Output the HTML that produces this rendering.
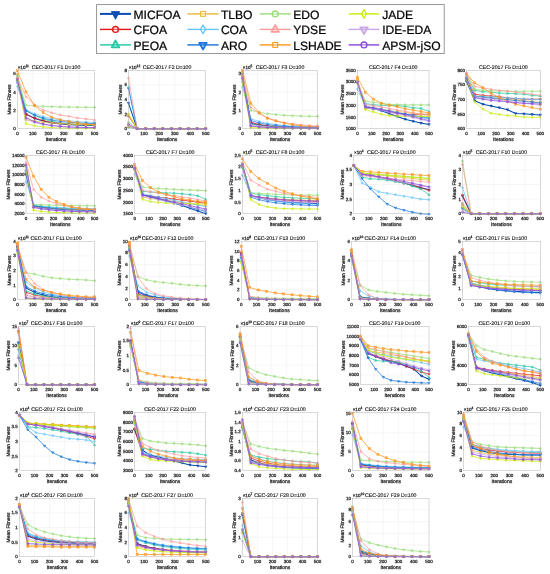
<!DOCTYPE html>
<html><head><meta charset="utf-8"><title>CEC-2017 convergence curves</title><style>
html,body{margin:0;padding:0;background:#fff;}
svg{display:block;filter:blur(0.3px);}
text{font-family:"Liberation Sans",sans-serif;fill:#262626;text-rendering:geometricPrecision;}
.tk.ex{font-size:4.6px;}
.tk{font-size:4.5px;fill:#222;stroke:#222;stroke-width:0.25px;}
.sup{font-size:3.3px;}
.ti{font-size:5.2px;fill:#111;stroke:#111;stroke-width:0.12px;}
.lb{font-size:5.0px;fill:#222;stroke:#222;stroke-width:0.25px;}
.lg{font-size:12.1px;fill:#000;stroke:#000;stroke-width:0.22px;}
.a0{stroke:#0a4cb0;stroke-width:1.05;fill:none;stroke-linejoin:round;marker:url(#m0);}
.a1{stroke:#e01818;stroke-width:0.72;fill:none;stroke-linejoin:round;marker:url(#m1);}
.a2{stroke:#20c8a0;stroke-width:0.72;fill:none;stroke-linejoin:round;marker:url(#m2);}
.a3{stroke:#eab840;stroke-width:0.72;fill:none;stroke-linejoin:round;marker:url(#m3);}
.a4{stroke:#60c4ff;stroke-width:0.72;fill:none;stroke-linejoin:round;marker:url(#m4);}
.a5{stroke:#1874d8;stroke-width:0.72;fill:none;stroke-linejoin:round;marker:url(#m5);}
.a6{stroke:#98dc78;stroke-width:0.72;fill:none;stroke-linejoin:round;marker:url(#m6);}
.a7{stroke:#ff9c9c;stroke-width:0.72;fill:none;stroke-linejoin:round;marker:url(#m7);}
.a8{stroke:#ff9418;stroke-width:0.72;fill:none;stroke-linejoin:round;marker:url(#m8);}
.a9{stroke:#c8ec00;stroke-width:0.72;fill:none;stroke-linejoin:round;marker:url(#m9);}
.a10{stroke:#c8a8e4;stroke-width:0.72;fill:none;stroke-linejoin:round;marker:url(#m10);}
.a11{stroke:#8848dc;stroke-width:0.72;fill:none;stroke-linejoin:round;marker:url(#m11);}</style></head>
<body><svg width="550" height="574" viewBox="0 0 550 574">
<defs><clipPath id="c0"><rect x="15.40" y="68.30" width="81.20" height="62.40"/></clipPath><clipPath id="c1"><rect x="126.50" y="68.30" width="81.20" height="62.40"/></clipPath><clipPath id="c2"><rect x="240.50" y="68.30" width="79.10" height="62.40"/></clipPath><clipPath id="c3"><rect x="355.40" y="68.30" width="75.60" height="62.40"/></clipPath><clipPath id="c4"><rect x="464.50" y="68.30" width="77.80" height="62.40"/></clipPath><clipPath id="c5"><rect x="24.00" y="153.30" width="72.60" height="62.40"/></clipPath><clipPath id="c6"><rect x="132.70" y="153.30" width="75.00" height="62.40"/></clipPath><clipPath id="c7"><rect x="240.40" y="153.30" width="79.20" height="62.40"/></clipPath><clipPath id="c8"><rect x="351.70" y="153.30" width="79.30" height="62.40"/></clipPath><clipPath id="c9"><rect x="460.50" y="153.30" width="81.80" height="62.40"/></clipPath><clipPath id="c10"><rect x="15.40" y="239.30" width="81.20" height="62.40"/></clipPath><clipPath id="c11"><rect x="127.40" y="239.30" width="80.30" height="62.40"/></clipPath><clipPath id="c12"><rect x="239.20" y="239.30" width="80.40" height="62.40"/></clipPath><clipPath id="c13"><rect x="349.50" y="239.30" width="81.50" height="62.40"/></clipPath><clipPath id="c14"><rect x="460.40" y="239.30" width="81.90" height="62.40"/></clipPath><clipPath id="c15"><rect x="16.50" y="324.30" width="80.10" height="62.40"/></clipPath><clipPath id="c16"><rect x="128.50" y="324.30" width="79.20" height="62.40"/></clipPath><clipPath id="c17"><rect x="238.10" y="324.30" width="81.50" height="62.40"/></clipPath><clipPath id="c18"><rect x="358.50" y="324.30" width="72.50" height="62.40"/></clipPath><clipPath id="c19"><rect x="466.40" y="324.30" width="75.90" height="62.40"/></clipPath><clipPath id="c20"><rect x="17.40" y="410.30" width="79.20" height="62.40"/></clipPath><clipPath id="c21"><rect x="132.50" y="410.30" width="75.20" height="62.40"/></clipPath><clipPath id="c22"><rect x="240.40" y="410.30" width="79.20" height="62.40"/></clipPath><clipPath id="c23"><rect x="350.40" y="410.30" width="80.60" height="62.40"/></clipPath><clipPath id="c24"><rect x="461.50" y="410.30" width="80.80" height="62.40"/></clipPath><clipPath id="c25"><rect x="17.40" y="496.30" width="79.20" height="62.40"/></clipPath><clipPath id="c26"><rect x="126.50" y="496.30" width="81.20" height="62.40"/></clipPath><clipPath id="c27"><rect x="240.40" y="496.30" width="79.20" height="62.40"/></clipPath><clipPath id="c28"><rect x="350.50" y="496.30" width="80.50" height="62.40"/></clipPath><marker id="m0" markerUnits="userSpaceOnUse" markerWidth="6" markerHeight="6" viewBox="-3 -3 6 6" refX="0" refY="0" overflow="visible"><path d="M-1.29,-0.84H1.29L0.00,1.34Z" fill="#0a4cb0" stroke="#0a4cb0" stroke-width="0.5"/></marker><marker id="m1" markerUnits="userSpaceOnUse" markerWidth="6" markerHeight="6" viewBox="-3 -3 6 6" refX="0" refY="0" overflow="visible"><circle cx="0.00" cy="0.00" r="1.06" fill="#e01818" fill-opacity="0.55" stroke="#e01818" stroke-width="0.5"/></marker><marker id="m2" markerUnits="userSpaceOnUse" markerWidth="6" markerHeight="6" viewBox="-3 -3 6 6" refX="0" refY="0" overflow="visible"><path d="M-1.23,0.78H1.23L0.00,-1.29Z" fill="#20c8a0" fill-opacity="0.55" stroke="#20c8a0" stroke-width="0.5"/></marker><marker id="m3" markerUnits="userSpaceOnUse" markerWidth="6" markerHeight="6" viewBox="-3 -3 6 6" refX="0" refY="0" overflow="visible"><rect x="-1.01" y="-1.01" width="2.02" height="2.02" fill="#eab840" fill-opacity="0.55" stroke="#eab840" stroke-width="0.5"/></marker><marker id="m4" markerUnits="userSpaceOnUse" markerWidth="6" markerHeight="6" viewBox="-3 -3 6 6" refX="0" refY="0" overflow="visible"><path d="M0.00,-1.34L1.01,0.00L0.00,1.34L-1.01,0.00Z" fill="#60c4ff" fill-opacity="0.55" stroke="#60c4ff" stroke-width="0.5"/></marker><marker id="m5" markerUnits="userSpaceOnUse" markerWidth="6" markerHeight="6" viewBox="-3 -3 6 6" refX="0" refY="0" overflow="visible"><path d="M-1.23,-0.78H1.23L0.00,1.29Z" fill="#1874d8" fill-opacity="0.55" stroke="#1874d8" stroke-width="0.5"/></marker><marker id="m6" markerUnits="userSpaceOnUse" markerWidth="6" markerHeight="6" viewBox="-3 -3 6 6" refX="0" refY="0" overflow="visible"><circle cx="0.00" cy="0.00" r="1.06" fill="#98dc78" fill-opacity="0.55" stroke="#98dc78" stroke-width="0.5"/></marker><marker id="m7" markerUnits="userSpaceOnUse" markerWidth="6" markerHeight="6" viewBox="-3 -3 6 6" refX="0" refY="0" overflow="visible"><path d="M-1.23,0.78H1.23L0.00,-1.29Z" fill="#ff9c9c" fill-opacity="0.55" stroke="#ff9c9c" stroke-width="0.5"/></marker><marker id="m8" markerUnits="userSpaceOnUse" markerWidth="6" markerHeight="6" viewBox="-3 -3 6 6" refX="0" refY="0" overflow="visible"><rect x="-1.01" y="-1.01" width="2.02" height="2.02" fill="#ff9418" fill-opacity="0.55" stroke="#ff9418" stroke-width="0.5"/></marker><marker id="m9" markerUnits="userSpaceOnUse" markerWidth="6" markerHeight="6" viewBox="-3 -3 6 6" refX="0" refY="0" overflow="visible"><path d="M0.00,-1.34L1.01,0.00L0.00,1.34L-1.01,0.00Z" fill="#c8ec00" fill-opacity="0.55" stroke="#c8ec00" stroke-width="0.5"/></marker><marker id="m10" markerUnits="userSpaceOnUse" markerWidth="6" markerHeight="6" viewBox="-3 -3 6 6" refX="0" refY="0" overflow="visible"><path d="M-1.23,-0.78H1.23L0.00,1.29Z" fill="#c8a8e4" fill-opacity="0.55" stroke="#c8a8e4" stroke-width="0.5"/></marker><marker id="m11" markerUnits="userSpaceOnUse" markerWidth="6" markerHeight="6" viewBox="-3 -3 6 6" refX="0" refY="0" overflow="visible"><circle cx="0.00" cy="0.00" r="1.06" fill="#8848dc" fill-opacity="0.55" stroke="#8848dc" stroke-width="0.5"/></marker></defs>
<rect width="550" height="574" fill="#fff"/>
<rect x="96.6" y="4.6" width="347.6" height="49" fill="#fff" stroke="#8c8c8c" stroke-width="0.9"/>
<path d="M100.0,13.9H131.0" stroke="#0a4cb0" stroke-width="2.0"/>
<path d="M111.30,11.50H119.70L115.50,19.30Z" fill="#0a4cb0" stroke="#0a4cb0" stroke-width="0.8" stroke-linejoin="round"/>
<text class="lg" x="133.5" y="18.60">MICFOA</text>
<path d="M100.0,29.4H131.0" stroke="#e01818" stroke-width="1.4"/>
<circle cx="115.50" cy="29.40" r="2.9" fill="#fff" fill-opacity="0.35" stroke="#e01818" stroke-width="1.35"/>
<text class="lg" x="133.5" y="34.10">CFOA</text>
<path d="M100.0,44.9H131.0" stroke="#20c8a0" stroke-width="1.4"/>
<path d="M111.70,47.30H119.30L115.50,40.30Z" fill="#20c8a0" fill-opacity="0.25" stroke="#20c8a0" stroke-width="1.7" stroke-linejoin="round"/>
<text class="lg" x="133.5" y="49.60">PEOA</text>
<path d="M187.4,13.9H218.6" stroke="#eab840" stroke-width="1.4"/>
<rect x="200.60" y="11.50" width="4.8" height="4.8" fill="#fff" fill-opacity="0.35" stroke="#eab840" stroke-width="1.1"/>
<text class="lg" x="220.9" y="18.60">TLBO</text>
<path d="M187.4,29.4H218.6" stroke="#60c4ff" stroke-width="1.4"/>
<path d="M203.00,25.00L205.50,29.40L203.00,33.80L200.50,29.40Z" fill="#fff" fill-opacity="0.35" stroke="#60c4ff" stroke-width="1.2" stroke-linejoin="round"/>
<text class="lg" x="220.9" y="34.10">COA</text>
<path d="M187.4,44.9H218.6" stroke="#1874d8" stroke-width="1.4"/>
<path d="M199.20,42.80H206.80L203.00,49.50Z" fill="#1874d8" fill-opacity="0.25" stroke="#1874d8" stroke-width="1.7" stroke-linejoin="round"/>
<text class="lg" x="220.9" y="49.60">ARO</text>
<path d="M259.7,13.9H290.7" stroke="#98dc78" stroke-width="1.4"/>
<circle cx="275.20" cy="13.90" r="2.9" fill="#fff" fill-opacity="0.35" stroke="#98dc78" stroke-width="1.35"/>
<text class="lg" x="293.3" y="18.60">EDO</text>
<path d="M259.7,29.4H290.7" stroke="#ff9c9c" stroke-width="1.4"/>
<path d="M271.40,31.80H279.00L275.20,24.80Z" fill="#ff9c9c" fill-opacity="0.25" stroke="#ff9c9c" stroke-width="1.7" stroke-linejoin="round"/>
<text class="lg" x="293.3" y="34.10">YDSE</text>
<path d="M259.7,44.9H290.7" stroke="#ff9418" stroke-width="1.4"/>
<rect x="272.80" y="42.50" width="4.8" height="4.8" fill="#fff" fill-opacity="0.35" stroke="#ff9418" stroke-width="1.1"/>
<text class="lg" x="293.3" y="49.60">LSHADE</text>
<path d="M348.7,13.9H379.3" stroke="#c8ec00" stroke-width="1.4"/>
<path d="M364.00,9.50L366.50,13.90L364.00,18.30L361.50,13.90Z" fill="#fff" fill-opacity="0.35" stroke="#c8ec00" stroke-width="1.2" stroke-linejoin="round"/>
<text class="lg" x="382.2" y="18.60">JADE</text>
<path d="M348.7,29.4H379.3" stroke="#c8a8e4" stroke-width="1.4"/>
<path d="M360.20,27.30H367.80L364.00,34.00Z" fill="#c8a8e4" fill-opacity="0.25" stroke="#c8a8e4" stroke-width="1.7" stroke-linejoin="round"/>
<text class="lg" x="382.2" y="34.10">IDE-EDA</text>
<path d="M348.7,44.9H379.3" stroke="#8848dc" stroke-width="1.4"/>
<circle cx="364.00" cy="44.90" r="2.9" fill="#fff" fill-opacity="0.35" stroke="#8848dc" stroke-width="1.35"/>
<text class="lg" x="382.2" y="49.60">APSM-jSO</text>
<path d="M32.84,70.30V128.70M48.28,70.30V128.70M63.72,70.30V128.70M79.16,70.30V128.70M17.40,110.36H94.60M17.40,92.03H94.60M17.40,73.69H94.60" stroke="#e6e6e6" stroke-width="0.35" fill="none"/>
<g clip-path="url(#c0)">
<path d="M17.4 81.0L26.0 114.0L34.6 118.4L43.1 121.1L51.7 122.9L60.3 124.0L68.9 124.7L77.4 125.1L86.0 125.4L94.6 125.6" class="a0"/>
<path d="M17.4 78.3L26.0 114.5L34.6 118.1L43.1 120.5L51.7 122.2L60.3 123.3L68.9 124.0L77.4 124.5L86.0 124.8L94.6 125.0" class="a1"/>
<path d="M17.4 75.5L26.0 110.4L34.6 115.5L43.1 118.9L51.7 121.3L60.3 122.8L68.9 123.8L77.4 124.5L86.0 125.0L94.6 125.3" class="a2"/>
<path d="M17.4 74.6L26.0 119.5L34.6 121.2L43.1 122.3L51.7 123.1L60.3 123.7L68.9 124.1L77.4 124.4L86.0 124.6L94.6 124.7" class="a3"/>
<path d="M17.4 86.5L26.0 109.9L34.6 113.8L43.1 116.6L51.7 118.5L60.3 119.9L68.9 120.9L77.4 121.6L86.0 122.1L94.6 122.4" class="a4"/>
<path d="M17.4 82.9L26.0 110.8L34.6 115.2L43.1 118.1L51.7 120.1L60.3 121.4L68.9 122.3L77.4 122.9L86.0 123.3L94.6 123.6" class="a5"/>
<path d="M17.4 78.3L26.0 105.3L34.6 105.9L43.1 106.4L51.7 106.7L60.3 106.9L68.9 107.1L77.4 107.2L86.0 107.3L94.6 107.4" class="a6"/>
<path d="M17.4 77.4L26.0 96.8L34.6 104.9L43.1 109.9L51.7 112.7L60.3 114.9L68.9 116.3L77.4 117.9L86.0 118.9L94.6 119.9" class="a7"/>
<path d="M17.4 70.7L26.0 91.8L34.6 105.5L43.1 112.7L51.7 117.1L60.3 119.9L68.9 121.5L77.4 122.8L86.0 124.1L94.6 125.0" class="a8"/>
<path d="M17.4 80.1L26.0 123.7L34.6 125.8L43.1 127.0L51.7 127.6L60.3 128.0L68.9 128.2L77.4 128.3L86.0 128.4L94.6 128.4" class="a9"/>
<path d="M17.4 82.9L26.0 119.5L34.6 122.5L43.1 124.4L51.7 125.6L60.3 126.4L68.9 126.9L77.4 127.2L86.0 127.4L94.6 127.6" class="a10"/>
<path d="M17.4 79.2L26.0 117.7L34.6 121.7L43.1 124.1L51.7 125.5L60.3 126.4L68.9 127.0L77.4 127.3L86.0 127.5L94.6 127.6" class="a11"/>
</g>
<rect x="17.40" y="70.30" width="77.20" height="58.40" fill="none" stroke="#a0a0a0" stroke-width="0.4"/>
<g class="tk"><text x="17.40" y="135.00" text-anchor="middle">0</text><text x="32.84" y="135.00" text-anchor="middle">100</text><text x="48.28" y="135.00" text-anchor="middle">200</text><text x="63.72" y="135.00" text-anchor="middle">300</text><text x="79.16" y="135.00" text-anchor="middle">400</text><text x="94.60" y="135.00" text-anchor="middle">500</text><text x="15.80" y="130.20" text-anchor="end">0</text><text x="15.80" y="111.86" text-anchor="end">2</text><text x="15.80" y="93.53" text-anchor="end">4</text><text x="15.80" y="75.19" text-anchor="end">6</text></g>
<text class="tk ex" x="17.70" y="69.30">×10<tspan class="sup" dy="-2.0">11</tspan></text>
<text class="ti" x="56.00" y="68.90" text-anchor="middle">CEC-2017 F1 D=100</text>
<text class="lb" x="56.00" y="140.60" text-anchor="middle">Iterations</text>
<text class="lb" transform="translate(11.00,99.50) rotate(-90)" text-anchor="middle">Mean Fitness</text>
<path d="M143.94,70.30V128.70M159.38,70.30V128.70M174.82,70.30V128.70M190.26,70.30V128.70M128.50,114.10H205.70M128.50,99.50H205.70M128.50,84.90H205.70" stroke="#e6e6e6" stroke-width="0.35" fill="none"/>
<g clip-path="url(#c1)">
<path d="M128.5 103.1L137.1 128.7L145.7 128.7L154.2 128.7L162.8 128.7L171.4 128.7L180.0 128.7L188.5 128.7L197.1 128.7L205.7 128.7" class="a0"/>
<path d="M128.5 115.9L137.1 128.7L145.7 128.7L154.2 128.7L162.8 128.7L171.4 128.7L180.0 128.7L188.5 128.7L197.1 128.7L205.7 128.7" class="a1"/>
<path d="M128.5 127.2L137.1 128.7L145.7 128.7L154.2 128.7L162.8 128.7L171.4 128.7L180.0 128.7L188.5 128.7L197.1 128.7L205.7 128.7" class="a2"/>
<path d="M128.5 114.8L137.1 128.7L145.7 128.7L154.2 128.7L162.8 128.7L171.4 128.7L180.0 128.7L188.5 128.7L197.1 128.7L205.7 128.7" class="a3"/>
<path d="M128.5 87.1L137.1 128.7L145.7 128.7L154.2 128.7L162.8 128.7L171.4 128.7L180.0 128.7L188.5 128.7L197.1 128.7L205.7 128.7" class="a4"/>
<path d="M128.5 88.5L137.1 128.7L145.7 128.7L154.2 128.7L162.8 128.7L171.4 128.7L180.0 128.7L188.5 128.7L197.1 128.7L205.7 128.7" class="a5"/>
<path d="M128.5 122.1L137.1 128.7L145.7 128.7L154.2 128.7L162.8 128.7L171.4 128.7L180.0 128.7L188.5 128.7L197.1 128.7L205.7 128.7" class="a6"/>
<path d="M128.5 77.9L137.1 128.7L145.7 128.7L154.2 128.7L162.8 128.7L171.4 128.7L180.0 128.7L188.5 128.7L197.1 128.7L205.7 128.7" class="a7"/>
<path d="M128.5 126.3L137.1 128.7L145.7 128.7L154.2 128.7L162.8 128.7L171.4 128.7L180.0 128.7L188.5 128.7L197.1 128.7L205.7 128.7" class="a8"/>
<path d="M128.5 114.1L137.1 128.7L145.7 128.7L154.2 128.7L162.8 128.7L171.4 128.7L180.0 128.7L188.5 128.7L197.1 128.7L205.7 128.7" class="a9"/>
<path d="M128.5 125.4L137.1 128.7L145.7 128.7L154.2 128.7L162.8 128.7L171.4 128.7L180.0 128.7L188.5 128.7L197.1 128.7L205.7 128.7" class="a10"/>
<path d="M128.5 124.3L137.1 128.7L145.7 128.7L154.2 128.7L162.8 128.7L171.4 128.7L180.0 128.7L188.5 128.7L197.1 128.7L205.7 128.7" class="a11"/>
</g>
<rect x="128.50" y="70.30" width="77.20" height="58.40" fill="none" stroke="#a0a0a0" stroke-width="0.4"/>
<g class="tk"><text x="128.50" y="135.00" text-anchor="middle">0</text><text x="143.94" y="135.00" text-anchor="middle">100</text><text x="159.38" y="135.00" text-anchor="middle">200</text><text x="174.82" y="135.00" text-anchor="middle">300</text><text x="190.26" y="135.00" text-anchor="middle">400</text><text x="205.70" y="135.00" text-anchor="middle">500</text><text x="126.90" y="130.20" text-anchor="end">0</text><text x="126.90" y="115.60" text-anchor="end">2</text><text x="126.90" y="101.00" text-anchor="end">4</text><text x="126.90" y="86.40" text-anchor="end">6</text><text x="126.90" y="71.80" text-anchor="end">8</text></g>
<text class="tk ex" x="128.80" y="69.30">×10<tspan class="sup" dy="-2.0">12</tspan></text>
<text class="ti" x="167.10" y="68.90" text-anchor="middle">CEC-2017 F2 D=100</text>
<text class="lb" x="167.10" y="140.60" text-anchor="middle">Iterations</text>
<text class="lb" transform="translate(122.10,99.50) rotate(-90)" text-anchor="middle">Mean Fitness</text>
<path d="M257.52,70.30V128.70M272.54,70.30V128.70M287.56,70.30V128.70M302.58,70.30V128.70M242.50,110.45H317.60M242.50,92.20H317.60M242.50,73.95H317.60" stroke="#e6e6e6" stroke-width="0.35" fill="none"/>
<g clip-path="url(#c2)">
<path d="M242.5 73.9L250.8 123.2L259.2 125.1L267.5 126.2L275.9 126.9L284.2 127.3L292.6 127.6L300.9 127.7L309.3 127.8L317.6 127.9" class="a0"/>
<path d="M242.5 75.8L250.8 122.3L259.2 124.5L267.5 125.8L275.9 126.6L284.2 127.0L292.6 127.3L300.9 127.5L309.3 127.6L317.6 127.7" class="a1"/>
<path d="M242.5 81.2L250.8 124.1L259.2 125.6L267.5 126.6L275.9 127.1L284.2 127.5L292.6 127.7L300.9 127.8L309.3 127.9L317.6 127.9" class="a2"/>
<path d="M242.5 72.1L250.8 126.5L259.2 127.2L267.5 127.5L275.9 127.8L284.2 127.9L292.6 128.0L300.9 128.1L309.3 128.1L317.6 128.1" class="a3"/>
<path d="M242.5 86.7L250.8 118.7L259.2 121.5L267.5 123.4L275.9 124.7L284.2 125.5L292.6 126.1L300.9 126.5L309.3 126.7L317.6 126.9" class="a4"/>
<path d="M242.5 77.6L250.8 120.5L259.2 123.0L267.5 124.6L275.9 125.6L284.2 126.3L292.6 126.7L300.9 127.0L309.3 127.1L317.6 127.2" class="a5"/>
<path d="M242.5 79.4L250.8 110.4L259.2 112.3L267.5 113.7L275.9 114.6L284.2 115.3L292.6 115.7L300.9 116.1L309.3 116.3L317.6 116.4" class="a6"/>
<path d="M242.5 75.8L250.8 107.3L259.2 113.5L267.5 117.7L275.9 120.6L284.2 122.6L292.6 124.0L300.9 124.9L309.3 125.5L317.6 125.9" class="a7"/>
<path d="M242.5 70.3L250.8 103.2L259.2 112.8L267.5 118.3L275.9 120.9L284.2 123.2L292.6 124.7L300.9 125.8L309.3 126.5L317.6 126.9" class="a8"/>
<path d="M242.5 83.1L250.8 127.8L259.2 128.1L267.5 128.2L275.9 128.4L284.2 128.4L292.6 128.5L300.9 128.5L309.3 128.5L317.6 128.5" class="a9"/>
<path d="M242.5 77.6L250.8 125.0L259.2 126.3L267.5 127.0L275.9 127.5L284.2 127.7L292.6 127.9L300.9 128.0L309.3 128.1L317.6 128.1" class="a10"/>
<path d="M242.5 78.5L250.8 126.0L259.2 126.9L267.5 127.5L275.9 127.8L284.2 128.0L292.6 128.1L300.9 128.2L309.3 128.3L317.6 128.3" class="a11"/>
</g>
<rect x="242.50" y="70.30" width="75.10" height="58.40" fill="none" stroke="#a0a0a0" stroke-width="0.4"/>
<g class="tk"><text x="242.50" y="135.00" text-anchor="middle">0</text><text x="257.52" y="135.00" text-anchor="middle">100</text><text x="272.54" y="135.00" text-anchor="middle">200</text><text x="287.56" y="135.00" text-anchor="middle">300</text><text x="302.58" y="135.00" text-anchor="middle">400</text><text x="317.60" y="135.00" text-anchor="middle">500</text><text x="240.90" y="130.20" text-anchor="end">0</text><text x="240.90" y="111.95" text-anchor="end">1</text><text x="240.90" y="93.70" text-anchor="end">2</text><text x="240.90" y="75.45" text-anchor="end">3</text></g>
<text class="tk ex" x="242.80" y="69.30">×10<tspan class="sup" dy="-2.0">5</tspan></text>
<text class="ti" x="280.05" y="68.90" text-anchor="middle">CEC-2017 F3 D=100</text>
<text class="lb" x="280.05" y="140.60" text-anchor="middle">Iterations</text>
<text class="lb" transform="translate(236.10,99.50) rotate(-90)" text-anchor="middle">Mean Fitness</text>
<path d="M371.72,70.30V128.70M386.04,70.30V128.70M400.36,70.30V128.70M414.68,70.30V128.70M357.40,117.02H429.00M357.40,105.34H429.00M357.40,93.66H429.00M357.40,81.98H429.00" stroke="#e6e6e6" stroke-width="0.35" fill="none"/>
<g clip-path="url(#c3)">
<path d="M357.4 82.0L365.4 106.7L373.3 108.1L381.3 110.8L389.2 113.6L397.2 116.4L405.1 119.2L413.1 121.3L421.0 123.1L429.0 124.4" class="a0"/>
<path d="M357.4 82.0L365.4 106.7L373.3 107.7L381.3 109.1L389.2 111.9L397.2 113.6L405.1 114.3L413.1 114.3L421.0 114.3L429.0 114.3" class="a1"/>
<path d="M357.4 80.8L365.4 103.6L373.3 104.6L381.3 105.3L389.2 105.3L397.2 105.6L405.1 106.3L413.1 107.7L421.0 108.4L429.0 111.5" class="a2"/>
<path d="M357.4 79.6L365.4 108.1L373.3 109.0L381.3 109.8L389.2 110.7L397.2 111.5L405.1 112.4L413.1 113.2L421.0 114.1L429.0 114.9" class="a3"/>
<path d="M357.4 89.0L365.4 106.3L373.3 107.6L381.3 109.1L389.2 110.6L397.2 112.3L405.1 113.9L413.1 115.6L421.0 117.4L429.0 119.1" class="a4"/>
<path d="M357.4 83.1L365.4 107.7L373.3 109.0L381.3 110.2L389.2 111.5L397.2 112.8L405.1 114.1L413.1 115.4L421.0 116.7L429.0 118.0" class="a5"/>
<path d="M357.4 82.0L365.4 101.2L373.3 102.3L381.3 103.2L389.2 104.4L397.2 104.6L405.1 104.8L413.1 104.8L421.0 104.9L429.0 104.9" class="a6"/>
<path d="M357.4 80.8L365.4 104.2L373.3 105.6L381.3 107.0L389.2 108.5L397.2 109.9L405.1 111.3L413.1 112.8L421.0 114.2L429.0 115.6" class="a7"/>
<path d="M357.4 77.4L365.4 92.2L373.3 99.1L381.3 103.2L389.2 105.3L397.2 106.7L405.1 108.8L413.1 110.1L421.0 111.5L429.0 112.9" class="a8"/>
<path d="M357.4 83.1L365.4 109.5L373.3 111.9L381.3 114.3L389.2 115.6L397.2 116.1L405.1 116.3L413.1 116.4L421.0 116.4L429.0 116.4" class="a9"/>
<path d="M357.4 83.1L365.4 107.7L373.3 108.8L381.3 110.3L389.2 112.0L397.2 113.8L405.1 115.7L413.1 117.6L421.0 119.6L429.0 121.7" class="a10"/>
<path d="M357.4 82.4L365.4 107.0L373.3 108.1L381.3 109.6L389.2 111.2L397.2 112.9L405.1 114.7L413.1 116.6L421.0 118.6L429.0 120.6" class="a11"/>
</g>
<rect x="357.40" y="70.30" width="71.60" height="58.40" fill="none" stroke="#a0a0a0" stroke-width="0.4"/>
<g class="tk"><text x="357.40" y="135.00" text-anchor="middle">0</text><text x="371.72" y="135.00" text-anchor="middle">100</text><text x="386.04" y="135.00" text-anchor="middle">200</text><text x="400.36" y="135.00" text-anchor="middle">300</text><text x="414.68" y="135.00" text-anchor="middle">400</text><text x="429.00" y="135.00" text-anchor="middle">500</text><text x="355.80" y="130.20" text-anchor="end">1000</text><text x="355.80" y="118.52" text-anchor="end">1500</text><text x="355.80" y="106.84" text-anchor="end">2000</text><text x="355.80" y="95.16" text-anchor="end">2500</text><text x="355.80" y="83.48" text-anchor="end">3000</text><text x="355.80" y="71.80" text-anchor="end">3500</text></g>
<text class="ti" x="393.20" y="68.90" text-anchor="middle">CEC-2017 F4 D=100</text>
<text class="lb" x="393.20" y="140.60" text-anchor="middle">Iterations</text>
<text class="lb" transform="translate(344.10,99.50) rotate(-90)" text-anchor="middle">Mean Fitness</text>
<path d="M481.26,70.30V128.70M496.02,70.30V128.70M510.78,70.30V128.70M525.54,70.30V128.70M466.50,114.10H540.30M466.50,99.50H540.30M466.50,84.90H540.30" stroke="#e6e6e6" stroke-width="0.35" fill="none"/>
<g clip-path="url(#c4)">
<path d="M466.5 81.4L474.7 100.7L482.9 104.2L491.1 105.9L499.3 107.7L507.5 109.7L515.7 113.5L523.9 113.8L532.1 114.4L540.3 115.0" class="a0"/>
<path d="M466.5 77.6L474.7 94.2L482.9 95.4L491.1 96.0L499.3 96.6L507.5 98.0L515.7 98.6L523.9 99.2L532.1 99.2L540.3 99.2" class="a1"/>
<path d="M466.5 76.1L474.7 90.4L482.9 91.6L491.1 92.2L499.3 93.1L507.5 93.4L515.7 93.7L523.9 94.2L532.1 95.4L540.3 96.0" class="a2"/>
<path d="M466.5 74.7L474.7 96.0L482.9 96.8L491.1 97.6L499.3 98.4L507.5 99.2L515.7 100.0L523.9 100.8L532.1 101.6L540.3 102.4" class="a3"/>
<path d="M466.5 79.1L474.7 96.0L482.9 96.5L491.1 96.9L499.3 97.4L507.5 97.9L515.7 98.4L523.9 98.8L532.1 99.3L540.3 99.8" class="a4"/>
<path d="M466.5 79.6L474.7 96.6L482.9 97.4L491.1 98.2L499.3 99.0L507.5 99.8L515.7 100.6L523.9 101.4L532.1 102.2L540.3 103.0" class="a5"/>
<path d="M466.5 74.7L474.7 89.3L482.9 90.4L491.1 90.7L499.3 91.0L507.5 91.0L515.7 91.3L523.9 91.3L532.1 91.3L540.3 91.3" class="a6"/>
<path d="M466.5 73.2L474.7 86.4L482.9 87.8L491.1 89.3L499.3 90.4L507.5 91.3L515.7 92.2L523.9 93.1L532.1 94.2L540.3 95.1" class="a7"/>
<path d="M466.5 73.8L474.7 82.9L482.9 87.8L491.1 93.1L499.3 97.7L507.5 101.3L515.7 104.2L523.9 105.9L532.1 107.7L540.3 109.1" class="a8"/>
<path d="M466.5 79.1L474.7 102.1L482.9 109.1L491.1 113.2L499.3 114.4L507.5 115.6L515.7 116.1L523.9 117.0L532.1 117.3L540.3 117.3" class="a9"/>
<path d="M466.5 77.6L474.7 97.2L482.9 98.2L491.1 99.2L499.3 100.2L507.5 101.3L515.7 102.3L523.9 103.3L532.1 104.3L540.3 105.3" class="a10"/>
<path d="M466.5 78.5L474.7 97.7L482.9 99.2L491.1 100.4L499.3 101.0L507.5 101.8L515.7 102.7L523.9 103.3L532.1 103.6L540.3 104.2" class="a11"/>
</g>
<rect x="466.50" y="70.30" width="73.80" height="58.40" fill="none" stroke="#a0a0a0" stroke-width="0.4"/>
<g class="tk"><text x="466.50" y="135.00" text-anchor="middle">0</text><text x="481.26" y="135.00" text-anchor="middle">100</text><text x="496.02" y="135.00" text-anchor="middle">200</text><text x="510.78" y="135.00" text-anchor="middle">300</text><text x="525.54" y="135.00" text-anchor="middle">400</text><text x="540.30" y="135.00" text-anchor="middle">500</text><text x="464.90" y="130.20" text-anchor="end">600</text><text x="464.90" y="115.60" text-anchor="end">650</text><text x="464.90" y="101.00" text-anchor="end">700</text><text x="464.90" y="86.40" text-anchor="end">750</text><text x="464.90" y="71.80" text-anchor="end">800</text></g>
<text class="ti" x="503.40" y="68.90" text-anchor="middle">CEC-2017 F5 D=100</text>
<text class="lb" x="503.40" y="140.60" text-anchor="middle">Iterations</text>
<text class="lb" transform="translate(455.50,99.50) rotate(-90)" text-anchor="middle">Mean Fitness</text>
<path d="M39.72,155.30V213.70M53.44,155.30V213.70M67.16,155.30V213.70M80.88,155.30V213.70M26.00,203.97H94.60M26.00,194.23H94.60M26.00,184.50H94.60M26.00,174.77H94.60M26.00,165.03H94.60" stroke="#e6e6e6" stroke-width="0.35" fill="none"/>
<g clip-path="url(#c5)">
<path d="M26.0 173.8L33.6 206.4L41.2 207.5L48.9 208.4L56.5 209.0L64.1 209.5L71.7 209.8L79.4 210.1L87.0 210.2L94.6 210.4" class="a0"/>
<path d="M26.0 170.9L33.6 205.9L41.2 206.9L48.9 207.7L56.5 208.2L64.1 208.6L71.7 208.9L79.4 209.2L87.0 209.3L94.6 209.5" class="a1"/>
<path d="M26.0 169.9L33.6 205.4L41.2 206.4L48.9 207.2L56.5 207.7L64.1 208.1L71.7 208.5L79.4 208.7L87.0 208.8L94.6 209.0" class="a2"/>
<path d="M26.0 165.0L33.6 206.9L41.2 207.8L48.9 208.4L56.5 208.9L64.1 209.3L71.7 209.5L79.4 209.7L87.0 209.9L94.6 210.0" class="a3"/>
<path d="M26.0 181.6L33.6 204.9L41.2 206.1L48.9 206.9L56.5 207.5L64.1 208.0L71.7 208.3L79.4 208.6L87.0 208.8L94.6 208.9" class="a4"/>
<path d="M26.0 174.8L33.6 205.9L41.2 207.3L48.9 208.3L56.5 209.1L64.1 209.7L71.7 210.1L79.4 210.4L87.0 210.6L94.6 210.8" class="a5"/>
<path d="M26.0 167.5L33.6 204.5L41.2 204.8L48.9 205.1L56.5 205.3L64.1 205.5L71.7 205.6L79.4 205.7L87.0 205.7L94.6 205.8" class="a6"/>
<path d="M26.0 162.6L33.6 189.4L41.2 197.2L48.9 201.0L56.5 203.5L64.1 205.4L71.7 206.9L79.4 207.9L87.0 208.8L94.6 209.3" class="a7"/>
<path d="M26.0 157.2L33.6 176.2L41.2 189.4L48.9 197.2L56.5 201.5L64.1 204.5L71.7 206.9L79.4 208.3L87.0 209.3L94.6 209.8" class="a8"/>
<path d="M26.0 169.9L33.6 210.3L41.2 211.4L48.9 212.0L56.5 212.5L64.1 212.7L71.7 212.9L79.4 213.0L87.0 213.1L94.6 213.1" class="a9"/>
<path d="M26.0 166.0L33.6 207.4L41.2 208.7L48.9 209.6L56.5 210.2L64.1 210.7L71.7 211.0L79.4 211.2L87.0 211.4L94.6 211.5" class="a10"/>
<path d="M26.0 165.0L33.6 207.4L41.2 208.8L48.9 209.8L56.5 210.5L64.1 211.0L71.7 211.4L79.4 211.6L87.0 211.8L94.6 211.9" class="a11"/>
</g>
<rect x="26.00" y="155.30" width="68.60" height="58.40" fill="none" stroke="#a0a0a0" stroke-width="0.4"/>
<g class="tk"><text x="26.00" y="220.00" text-anchor="middle">0</text><text x="39.72" y="220.00" text-anchor="middle">100</text><text x="53.44" y="220.00" text-anchor="middle">200</text><text x="67.16" y="220.00" text-anchor="middle">300</text><text x="80.88" y="220.00" text-anchor="middle">400</text><text x="94.60" y="220.00" text-anchor="middle">500</text><text x="24.40" y="215.20" text-anchor="end">2000</text><text x="24.40" y="205.47" text-anchor="end">4000</text><text x="24.40" y="195.73" text-anchor="end">6000</text><text x="24.40" y="186.00" text-anchor="end">8000</text><text x="24.40" y="176.27" text-anchor="end">10000</text><text x="24.40" y="166.53" text-anchor="end">12000</text><text x="24.40" y="156.80" text-anchor="end">14000</text></g>
<text class="ti" x="60.30" y="153.90" text-anchor="middle">CEC-2017 F6 D=100</text>
<text class="lb" x="60.30" y="225.60" text-anchor="middle">Iterations</text>
<text class="lb" transform="translate(10.40,184.50) rotate(-90)" text-anchor="middle">Mean Fitness</text>
<path d="M148.90,155.30V213.70M163.10,155.30V213.70M177.30,155.30V213.70M191.50,155.30V213.70M134.70,202.02H205.70M134.70,190.34H205.70M134.70,178.66H205.70M134.70,166.98H205.70" stroke="#e6e6e6" stroke-width="0.35" fill="none"/>
<g clip-path="url(#c6)">
<path d="M134.7 168.1L142.6 195.0L150.5 196.6L158.4 198.6L166.3 200.8L174.1 203.1L182.0 205.6L189.9 208.2L197.8 210.9L205.7 213.7" class="a0"/>
<path d="M134.7 169.3L142.6 195.0L150.5 196.0L158.4 197.1L166.3 198.1L174.1 199.1L182.0 200.1L189.9 201.1L197.8 202.2L205.7 203.2" class="a1"/>
<path d="M134.7 168.1L142.6 191.4L150.5 192.0L158.4 192.4L166.3 192.9L174.1 193.1L182.0 193.8L189.9 194.5L197.8 195.8L205.7 199.4" class="a2"/>
<path d="M134.7 167.0L142.6 197.3L150.5 198.4L158.4 199.4L166.3 200.4L174.1 201.4L182.0 202.5L189.9 203.5L197.8 204.5L205.7 205.5" class="a3"/>
<path d="M134.7 174.0L142.6 193.8L150.5 195.5L158.4 197.1L166.3 198.7L174.1 200.3L182.0 201.9L189.9 203.5L197.8 205.1L205.7 206.7" class="a4"/>
<path d="M134.7 169.3L142.6 195.0L150.5 197.1L158.4 199.1L166.3 201.1L174.1 203.2L182.0 205.2L189.9 207.3L197.8 209.3L205.7 211.4" class="a5"/>
<path d="M134.7 168.1L142.6 187.1L150.5 187.9L158.4 188.5L166.3 188.9L174.1 189.3L182.0 189.7L189.9 190.0L197.8 190.4L205.7 190.7" class="a6"/>
<path d="M134.7 167.0L142.6 190.3L150.5 191.7L158.4 193.0L166.3 194.3L174.1 195.6L182.0 196.9L189.9 198.2L197.8 199.5L205.7 200.9" class="a7"/>
<path d="M134.7 164.4L142.6 180.6L150.5 187.7L158.4 192.0L166.3 194.7L174.1 196.7L182.0 198.8L189.9 200.1L197.8 201.5L205.7 202.0" class="a8"/>
<path d="M134.7 170.5L142.6 199.4L150.5 201.5L158.4 202.5L166.3 203.0L174.1 203.3L182.0 203.5L189.9 203.8L197.8 203.9L205.7 204.0" class="a9"/>
<path d="M134.7 169.3L142.6 196.2L150.5 197.9L158.4 199.7L166.3 201.4L174.1 203.2L182.0 204.9L189.9 206.7L197.8 208.4L205.7 210.2" class="a10"/>
<path d="M134.7 168.1L142.6 195.0L150.5 196.8L158.4 198.5L166.3 200.3L174.1 202.0L182.0 203.8L189.9 205.5L197.8 207.3L205.7 209.0" class="a11"/>
</g>
<rect x="134.70" y="155.30" width="71.00" height="58.40" fill="none" stroke="#a0a0a0" stroke-width="0.4"/>
<g class="tk"><text x="134.70" y="220.00" text-anchor="middle">0</text><text x="148.90" y="220.00" text-anchor="middle">100</text><text x="163.10" y="220.00" text-anchor="middle">200</text><text x="177.30" y="220.00" text-anchor="middle">300</text><text x="191.50" y="220.00" text-anchor="middle">400</text><text x="205.70" y="220.00" text-anchor="middle">500</text><text x="133.10" y="215.20" text-anchor="end">1500</text><text x="133.10" y="203.52" text-anchor="end">2000</text><text x="133.10" y="191.84" text-anchor="end">2500</text><text x="133.10" y="180.16" text-anchor="end">3000</text><text x="133.10" y="168.48" text-anchor="end">3500</text><text x="133.10" y="156.80" text-anchor="end">4000</text></g>
<text class="ti" x="170.20" y="153.90" text-anchor="middle">CEC-2017 F7 D=100</text>
<text class="lb" x="170.20" y="225.60" text-anchor="middle">Iterations</text>
<text class="lb" transform="translate(121.40,184.50) rotate(-90)" text-anchor="middle">Mean Fitness</text>
<path d="M257.44,155.30V213.70M272.48,155.30V213.70M287.52,155.30V213.70M302.56,155.30V213.70M242.40,202.02H317.60M242.40,190.34H317.60M242.40,178.66H317.60M242.40,166.98H317.60" stroke="#e6e6e6" stroke-width="0.35" fill="none"/>
<g clip-path="url(#c7)">
<path d="M242.4 164.6L250.8 195.5L259.1 197.8L267.5 199.5L275.8 200.7L284.2 201.7L292.5 202.4L300.9 202.9L309.2 203.3L317.6 203.6" class="a0"/>
<path d="M242.4 165.8L250.8 195.5L259.1 197.2L267.5 198.4L275.8 199.4L284.2 200.0L292.5 200.6L300.9 200.9L309.2 201.2L317.6 201.4" class="a1"/>
<path d="M242.4 164.6L250.8 193.1L259.1 194.6L267.5 195.7L275.8 196.6L284.2 197.3L292.5 197.8L300.9 198.2L309.2 198.5L317.6 198.8" class="a2"/>
<path d="M242.4 167.0L250.8 196.2L259.1 197.4L267.5 198.3L275.8 199.0L284.2 199.4L292.5 199.8L300.9 200.1L309.2 200.3L317.6 200.4" class="a3"/>
<path d="M242.4 175.2L250.8 195.0L259.1 197.7L267.5 199.6L275.8 201.1L284.2 202.2L292.5 203.0L300.9 203.6L309.2 204.0L317.6 204.4" class="a4"/>
<path d="M242.4 167.0L250.8 197.3L259.1 199.7L267.5 201.5L275.8 202.8L284.2 203.7L292.5 204.4L300.9 205.0L309.2 205.3L317.6 205.6" class="a5"/>
<path d="M242.4 164.6L250.8 192.7L259.1 193.4L267.5 193.9L275.8 194.3L284.2 194.6L292.5 194.9L300.9 195.0L309.2 195.1L317.6 195.2" class="a6"/>
<path d="M242.4 162.3L250.8 180.1L259.1 185.0L267.5 189.2L275.8 191.3L284.2 193.4L292.5 194.5L300.9 195.5L309.2 196.4L317.6 197.6" class="a7"/>
<path d="M242.4 158.8L250.8 171.7L259.1 178.7L267.5 183.3L275.8 188.0L284.2 191.5L292.5 193.8L300.9 196.2L309.2 197.3L317.6 199.7" class="a8"/>
<path d="M242.4 164.6L250.8 199.7L259.1 204.6L267.5 206.9L275.8 208.0L284.2 208.6L292.5 208.8L300.9 208.9L309.2 209.0L317.6 209.0" class="a9"/>
<path d="M242.4 165.8L250.8 196.2L259.1 198.0L267.5 199.3L275.8 200.3L284.2 201.1L292.5 201.6L300.9 202.0L309.2 202.3L317.6 202.6" class="a10"/>
<path d="M242.4 164.6L250.8 195.5L259.1 197.1L267.5 198.2L275.8 199.1L284.2 199.7L292.5 200.2L300.9 200.5L309.2 200.8L317.6 201.0" class="a11"/>
</g>
<rect x="242.40" y="155.30" width="75.20" height="58.40" fill="none" stroke="#a0a0a0" stroke-width="0.4"/>
<g class="tk"><text x="242.40" y="220.00" text-anchor="middle">0</text><text x="257.44" y="220.00" text-anchor="middle">100</text><text x="272.48" y="220.00" text-anchor="middle">200</text><text x="287.52" y="220.00" text-anchor="middle">300</text><text x="302.56" y="220.00" text-anchor="middle">400</text><text x="317.60" y="220.00" text-anchor="middle">500</text><text x="240.80" y="215.20" text-anchor="end">0</text><text x="240.80" y="203.52" text-anchor="end">0.5</text><text x="240.80" y="191.84" text-anchor="end">1</text><text x="240.80" y="180.16" text-anchor="end">1.5</text><text x="240.80" y="168.48" text-anchor="end">2</text><text x="240.80" y="156.80" text-anchor="end">2.5</text></g>
<text class="tk ex" x="242.70" y="154.30">×10<tspan class="sup" dy="-2.0">5</tspan></text>
<text class="ti" x="280.00" y="153.90" text-anchor="middle">CEC-2017 F8 D=100</text>
<text class="lb" x="280.00" y="225.60" text-anchor="middle">Iterations</text>
<text class="lb" transform="translate(232.50,184.50) rotate(-90)" text-anchor="middle">Mean Fitness</text>
<path d="M368.76,155.30V213.70M383.82,155.30V213.70M398.88,155.30V213.70M413.94,155.30V213.70M353.70,199.10H429.00M353.70,184.50H429.00M353.70,169.90H429.00" stroke="#e6e6e6" stroke-width="0.35" fill="none"/>
<g clip-path="url(#c8)">
<path d="M353.7 165.5L362.1 174.3L370.4 175.6L378.8 177.2L387.2 179.0L395.5 181.0L403.9 183.1L412.3 185.2L420.6 187.5L429.0 189.8" class="a0"/>
<path d="M353.7 165.5L362.1 174.3L370.4 175.4L378.8 176.9L387.2 178.8L395.5 180.8L403.9 183.0L412.3 185.3L420.6 187.8L429.0 190.3" class="a1"/>
<path d="M353.7 165.5L362.1 177.2L370.4 178.7L378.8 179.2L387.2 180.1L395.5 181.6L403.9 183.0L412.3 186.0L420.6 188.9L429.0 194.7" class="a2"/>
<path d="M353.7 165.5L362.1 173.4L370.4 174.2L378.8 175.1L387.2 175.9L395.5 176.8L403.9 177.6L412.3 178.4L420.6 179.3L429.0 180.1" class="a3"/>
<path d="M353.7 165.5L362.1 183.0L370.4 187.4L378.8 191.8L387.2 193.3L395.5 194.7L403.9 196.2L412.3 197.6L420.6 199.1L429.0 199.7" class="a4"/>
<path d="M353.7 165.5L362.1 178.7L370.4 188.9L378.8 196.8L387.2 204.1L395.5 207.9L403.9 210.2L412.3 212.2L420.6 213.7L429.0 214.3" class="a5"/>
<path d="M353.7 165.5L362.1 173.4L370.4 174.0L378.8 174.6L387.2 175.2L395.5 175.7L403.9 176.3L412.3 176.9L420.6 177.5L429.0 178.1" class="a6"/>
<path d="M353.7 165.5L362.1 175.7L370.4 176.5L378.8 177.3L387.2 178.1L395.5 179.0L403.9 179.8L412.3 180.6L420.6 181.4L429.0 182.2" class="a7"/>
<path d="M353.7 165.5L362.1 171.4L370.4 171.9L378.8 172.5L387.2 173.0L395.5 173.6L403.9 174.1L412.3 174.6L420.6 175.2L429.0 175.7" class="a8"/>
<path d="M353.7 165.5L362.1 172.8L370.4 173.6L378.8 174.3L387.2 175.0L395.5 175.7L403.9 176.5L412.3 177.2L420.6 177.9L429.0 178.7" class="a9"/>
<path d="M353.7 165.5L362.1 174.3L370.4 175.9L378.8 177.6L387.2 179.2L395.5 180.9L403.9 182.5L412.3 184.1L420.6 185.8L429.0 187.4" class="a10"/>
<path d="M353.7 165.5L362.1 174.3L370.4 175.3L378.8 176.7L387.2 178.1L395.5 179.7L403.9 181.4L412.3 183.2L420.6 185.0L429.0 186.8" class="a11"/>
</g>
<rect x="353.70" y="155.30" width="75.30" height="58.40" fill="none" stroke="#a0a0a0" stroke-width="0.4"/>
<g class="tk"><text x="353.70" y="220.00" text-anchor="middle">0</text><text x="368.76" y="220.00" text-anchor="middle">100</text><text x="383.82" y="220.00" text-anchor="middle">200</text><text x="398.88" y="220.00" text-anchor="middle">300</text><text x="413.94" y="220.00" text-anchor="middle">400</text><text x="429.00" y="220.00" text-anchor="middle">500</text><text x="352.10" y="215.20" text-anchor="end">2</text><text x="352.10" y="200.60" text-anchor="end">2.5</text><text x="352.10" y="186.00" text-anchor="end">3</text><text x="352.10" y="171.40" text-anchor="end">3.5</text><text x="352.10" y="156.80" text-anchor="end">4</text></g>
<text class="tk ex" x="354.00" y="154.30">×10<tspan class="sup" dy="-2.0">4</tspan></text>
<text class="ti" x="391.35" y="153.90" text-anchor="middle">CEC-2017 F9 D=100</text>
<text class="lb" x="391.35" y="225.60" text-anchor="middle">Iterations</text>
<text class="lb" transform="translate(343.80,184.50) rotate(-90)" text-anchor="middle">Mean Fitness</text>
<path d="M478.06,155.30V213.70M493.62,155.30V213.70M509.18,155.30V213.70M524.74,155.30V213.70M462.50,199.10H540.30M462.50,184.50H540.30M462.50,169.90H540.30" stroke="#e6e6e6" stroke-width="0.35" fill="none"/>
<g clip-path="url(#c9)">
<path d="M462.5 196.2L471.1 213.7L479.8 213.7L488.4 213.7L497.1 213.7L505.7 213.7L514.4 213.7L523.0 213.7L531.7 213.7L540.3 213.7" class="a0"/>
<path d="M462.5 195.0L471.1 213.7L479.8 213.7L488.4 213.7L497.1 213.7L505.7 213.7L514.4 213.7L523.0 213.7L531.7 213.7L540.3 213.7" class="a1"/>
<path d="M462.5 207.1L471.1 213.7L479.8 213.7L488.4 213.7L497.1 213.7L505.7 213.7L514.4 213.7L523.0 213.7L531.7 213.7L540.3 213.7" class="a2"/>
<path d="M462.5 203.2L471.1 213.7L479.8 213.7L488.4 213.7L497.1 213.7L505.7 213.7L514.4 213.7L523.0 213.7L531.7 213.7L540.3 213.7" class="a3"/>
<path d="M462.5 187.4L471.1 213.7L479.8 213.7L488.4 213.7L497.1 213.7L505.7 213.7L514.4 213.7L523.0 213.7L531.7 213.7L540.3 213.7" class="a4"/>
<path d="M462.5 208.6L471.1 213.7L479.8 213.7L488.4 213.7L497.1 213.7L505.7 213.7L514.4 213.7L523.0 213.7L531.7 213.7L540.3 213.7" class="a5"/>
<path d="M462.5 161.1L471.1 213.7L479.8 213.7L488.4 213.7L497.1 213.7L505.7 213.7L514.4 213.7L523.0 213.7L531.7 213.7L540.3 213.7" class="a6"/>
<path d="M462.5 164.1L471.1 213.7L479.8 213.7L488.4 213.7L497.1 213.7L505.7 213.7L514.4 213.7L523.0 213.7L531.7 213.7L540.3 213.7" class="a7"/>
<path d="M462.5 204.9L471.1 213.7L479.8 213.7L488.4 213.7L497.1 213.7L505.7 213.7L514.4 213.7L523.0 213.7L531.7 213.7L540.3 213.7" class="a8"/>
<path d="M462.5 206.4L471.1 213.7L479.8 213.7L488.4 213.7L497.1 213.7L505.7 213.7L514.4 213.7L523.0 213.7L531.7 213.7L540.3 213.7" class="a9"/>
<path d="M462.5 210.1L471.1 213.7L479.8 213.7L488.4 213.7L497.1 213.7L505.7 213.7L514.4 213.7L523.0 213.7L531.7 213.7L540.3 213.7" class="a10"/>
<path d="M462.5 212.2L471.1 213.7L479.8 213.7L488.4 213.7L497.1 213.7L505.7 213.7L514.4 213.7L523.0 213.7L531.7 213.7L540.3 213.7" class="a11"/>
</g>
<rect x="462.50" y="155.30" width="77.80" height="58.40" fill="none" stroke="#a0a0a0" stroke-width="0.4"/>
<g class="tk"><text x="462.50" y="220.00" text-anchor="middle">0</text><text x="478.06" y="220.00" text-anchor="middle">100</text><text x="493.62" y="220.00" text-anchor="middle">200</text><text x="509.18" y="220.00" text-anchor="middle">300</text><text x="524.74" y="220.00" text-anchor="middle">400</text><text x="540.30" y="220.00" text-anchor="middle">500</text><text x="460.90" y="215.20" text-anchor="end">0</text><text x="460.90" y="200.60" text-anchor="end">1</text><text x="460.90" y="186.00" text-anchor="end">2</text><text x="460.90" y="171.40" text-anchor="end">3</text><text x="460.90" y="156.80" text-anchor="end">4</text></g>
<text class="tk ex" x="462.80" y="154.30">×10<tspan class="sup" dy="-2.0">5</tspan></text>
<text class="ti" x="501.40" y="153.90" text-anchor="middle">CEC-2017 F10 D=100</text>
<text class="lb" x="501.40" y="225.60" text-anchor="middle">Iterations</text>
<text class="lb" transform="translate(456.10,184.50) rotate(-90)" text-anchor="middle">Mean Fitness</text>
<path d="M32.84,241.30V299.70M48.28,241.30V299.70M63.72,241.30V299.70M79.16,241.30V299.70M17.40,285.10H94.60M17.40,270.50H94.60M17.40,255.90H94.60" stroke="#e6e6e6" stroke-width="0.35" fill="none"/>
<g clip-path="url(#c10)">
<path d="M17.4 245.7L26.0 288.0L34.6 292.4L43.1 295.1L51.7 296.8L60.3 297.7L68.9 298.3L77.4 298.7L86.0 298.9L94.6 299.1" class="a0"/>
<path d="M17.4 247.1L26.0 292.4L34.6 295.0L43.1 296.6L51.7 297.5L60.3 298.1L68.9 298.4L77.4 298.6L86.0 298.8L94.6 298.8" class="a1"/>
<path d="M17.4 248.6L26.0 290.9L34.6 294.0L43.1 295.9L51.7 297.1L60.3 297.8L68.9 298.2L77.4 298.4L86.0 298.6L94.6 298.7" class="a2"/>
<path d="M17.4 243.5L26.0 295.3L34.6 296.8L43.1 297.7L51.7 298.3L60.3 298.6L68.9 298.8L77.4 298.9L86.0 299.0L94.6 299.0" class="a3"/>
<path d="M17.4 251.5L26.0 282.2L34.6 288.0L43.1 291.7L51.7 294.1L60.3 295.6L68.9 296.5L77.4 297.2L86.0 297.6L94.6 297.8" class="a4"/>
<path d="M17.4 247.1L26.0 286.6L34.6 290.9L43.1 293.7L51.7 295.4L60.3 296.6L68.9 297.3L77.4 297.7L86.0 298.0L94.6 298.2" class="a5"/>
<path d="M17.4 248.6L26.0 272.7L34.6 274.1L43.1 276.3L51.7 277.8L60.3 278.5L68.9 279.3L77.4 279.6L86.0 280.0L94.6 280.7" class="a6"/>
<path d="M17.4 245.0L26.0 272.0L34.6 283.6L43.1 289.5L51.7 292.4L60.3 294.6L68.9 296.1L77.4 296.8L86.0 297.5L94.6 297.5" class="a7"/>
<path d="M17.4 243.5L26.0 279.3L34.6 287.3L43.1 290.2L51.7 292.4L60.3 293.9L68.9 295.3L77.4 296.1L86.0 296.8L94.6 296.8" class="a8"/>
<path d="M17.4 253.0L26.0 298.2L34.6 298.8L43.1 299.1L51.7 299.3L60.3 299.4L68.9 299.4L77.4 299.5L86.0 299.5L94.6 299.5" class="a9"/>
<path d="M17.4 251.5L26.0 295.3L34.6 296.9L43.1 297.8L51.7 298.4L60.3 298.7L68.9 298.9L77.4 299.1L86.0 299.1L94.6 299.2" class="a10"/>
<path d="M17.4 250.1L26.0 297.9L34.6 298.5L43.1 298.9L51.7 299.1L60.3 299.2L68.9 299.3L77.4 299.3L86.0 299.4L94.6 299.4" class="a11"/>
</g>
<rect x="17.40" y="241.30" width="77.20" height="58.40" fill="none" stroke="#a0a0a0" stroke-width="0.4"/>
<g class="tk"><text x="17.40" y="306.00" text-anchor="middle">0</text><text x="32.84" y="306.00" text-anchor="middle">100</text><text x="48.28" y="306.00" text-anchor="middle">200</text><text x="63.72" y="306.00" text-anchor="middle">300</text><text x="79.16" y="306.00" text-anchor="middle">400</text><text x="94.60" y="306.00" text-anchor="middle">500</text><text x="15.80" y="301.20" text-anchor="end">0</text><text x="15.80" y="286.60" text-anchor="end">1</text><text x="15.80" y="272.00" text-anchor="end">2</text><text x="15.80" y="257.40" text-anchor="end">3</text><text x="15.80" y="242.80" text-anchor="end">4</text></g>
<text class="tk ex" x="17.70" y="240.30">×10<tspan class="sup" dy="-2.0">11</tspan></text>
<text class="ti" x="56.00" y="239.90" text-anchor="middle">CEC-2017 F11 D=100</text>
<text class="lb" x="56.00" y="311.60" text-anchor="middle">Iterations</text>
<text class="lb" transform="translate(11.00,270.50) rotate(-90)" text-anchor="middle">Mean Fitness</text>
<path d="M144.66,241.30V299.70M159.92,241.30V299.70M175.18,241.30V299.70M190.44,241.30V299.70M129.40,288.02H205.70M129.40,276.34H205.70M129.40,264.66H205.70M129.40,252.98H205.70" stroke="#e6e6e6" stroke-width="0.35" fill="none"/>
<g clip-path="url(#c11)">
<path d="M129.4 247.1L137.9 292.1L146.4 295.5L154.8 297.3L163.3 298.3L171.8 298.9L180.3 299.2L188.7 299.4L197.2 299.5L205.7 299.5" class="a0"/>
<path d="M129.4 245.4L137.9 293.9L146.4 296.4L154.8 297.8L163.3 298.6L171.8 299.0L180.3 299.2L188.7 299.4L197.2 299.4L205.7 299.5" class="a1"/>
<path d="M129.4 250.1L137.9 295.0L146.4 297.1L154.8 298.2L163.3 298.8L171.8 299.1L180.3 299.3L188.7 299.4L197.2 299.5L205.7 299.5" class="a2"/>
<path d="M129.4 242.5L137.9 296.2L146.4 297.7L154.8 298.6L163.3 299.0L171.8 299.3L180.3 299.4L188.7 299.5L197.2 299.5L205.7 299.6" class="a3"/>
<path d="M129.4 255.9L137.9 285.7L146.4 292.1L154.8 294.7L163.3 296.8L171.8 297.9L180.3 298.8L188.7 299.2L197.2 299.5L205.7 299.6" class="a4"/>
<path d="M129.4 248.9L137.9 290.9L146.4 294.8L154.8 296.9L163.3 298.1L171.8 298.7L180.3 299.1L188.7 299.3L197.2 299.4L205.7 299.5" class="a5"/>
<path d="M129.4 247.1L137.9 276.3L146.4 279.8L154.8 281.6L163.3 282.5L171.8 283.3L180.3 284.4L188.7 285.1L197.2 285.6L205.7 286.0" class="a6"/>
<path d="M129.4 243.6L137.9 276.9L146.4 288.6L154.8 293.5L163.3 295.7L171.8 297.1L180.3 298.1L188.7 298.6L197.2 299.1L205.7 299.4" class="a7"/>
<path d="M129.4 242.5L137.9 296.8L146.4 298.0L154.8 298.7L163.3 299.1L171.8 299.3L180.3 299.4L188.7 299.5L197.2 299.5L205.7 299.6" class="a8"/>
<path d="M129.4 253.0L137.9 298.5L146.4 299.0L154.8 299.3L163.3 299.5L171.8 299.5L180.3 299.6L188.7 299.6L197.2 299.6L205.7 299.6" class="a9"/>
<path d="M129.4 251.8L137.9 297.4L146.4 298.4L154.8 298.9L163.3 299.2L171.8 299.4L180.3 299.5L188.7 299.5L197.2 299.5L205.7 299.6" class="a10"/>
<path d="M129.4 250.6L137.9 299.1L146.4 299.4L154.8 299.5L163.3 299.6L171.8 299.6L180.3 299.6L188.7 299.6L197.2 299.6L205.7 299.6" class="a11"/>
</g>
<rect x="129.40" y="241.30" width="76.30" height="58.40" fill="none" stroke="#a0a0a0" stroke-width="0.4"/>
<g class="tk"><text x="129.40" y="306.00" text-anchor="middle">0</text><text x="144.66" y="306.00" text-anchor="middle">100</text><text x="159.92" y="306.00" text-anchor="middle">200</text><text x="175.18" y="306.00" text-anchor="middle">300</text><text x="190.44" y="306.00" text-anchor="middle">400</text><text x="205.70" y="306.00" text-anchor="middle">500</text><text x="127.80" y="301.20" text-anchor="end">0</text><text x="127.80" y="289.52" text-anchor="end">2</text><text x="127.80" y="277.84" text-anchor="end">4</text><text x="127.80" y="266.16" text-anchor="end">6</text><text x="127.80" y="254.48" text-anchor="end">8</text><text x="127.80" y="242.80" text-anchor="end">10</text></g>
<text class="tk ex" x="129.70" y="240.30">×10<tspan class="sup" dy="-2.0">10</tspan></text>
<text class="ti" x="167.55" y="239.90" text-anchor="middle">CEC-2017 F12 D=100</text>
<text class="lb" x="167.55" y="311.60" text-anchor="middle">Iterations</text>
<text class="lb" transform="translate(120.70,270.50) rotate(-90)" text-anchor="middle">Mean Fitness</text>
<path d="M256.48,241.30V299.70M271.76,241.30V299.70M287.04,241.30V299.70M302.32,241.30V299.70M241.20,289.97H317.60M241.20,280.23H317.60M241.20,270.50H317.60M241.20,260.77H317.60M241.20,251.03H317.60" stroke="#e6e6e6" stroke-width="0.35" fill="none"/>
<g clip-path="url(#c12)">
<path d="M241.2 253.5L249.7 297.8L258.2 298.7L266.7 299.1L275.2 299.4L283.6 299.5L292.1 299.5L300.6 299.6L309.1 299.6L317.6 299.6" class="a0"/>
<path d="M241.2 253.0L249.7 298.2L258.2 298.9L266.7 299.3L275.2 299.4L283.6 299.5L292.1 299.6L300.6 299.6L309.1 299.6L317.6 299.6" class="a1"/>
<path d="M241.2 260.8L249.7 297.3L258.2 298.4L266.7 298.9L275.2 299.2L283.6 299.3L292.1 299.4L300.6 299.4L309.1 299.4L317.6 299.4" class="a2"/>
<path d="M241.2 255.9L249.7 298.7L258.2 299.2L266.7 299.4L275.2 299.5L283.6 299.5L292.1 299.6L300.6 299.6L309.1 299.6L317.6 299.6" class="a3"/>
<path d="M241.2 258.3L249.7 297.3L258.2 298.4L266.7 298.9L275.2 299.2L283.6 299.3L292.1 299.4L300.6 299.4L309.1 299.4L317.6 299.4" class="a4"/>
<path d="M241.2 257.8L249.7 297.8L258.2 298.7L266.7 299.1L275.2 299.3L283.6 299.4L292.1 299.5L300.6 299.5L309.1 299.5L317.6 299.5" class="a5"/>
<path d="M241.2 260.8L249.7 296.8L258.2 297.5L266.7 298.0L275.2 298.3L283.6 298.5L292.1 298.6L300.6 298.6L309.1 298.7L317.6 298.7" class="a6"/>
<path d="M241.2 251.0L249.7 296.3L258.2 297.9L266.7 298.7L275.2 299.1L283.6 299.3L292.1 299.4L300.6 299.4L309.1 299.4L317.6 299.4" class="a7"/>
<path d="M241.2 246.2L249.7 287.5L258.2 290.0L266.7 291.4L275.2 292.9L283.6 293.9L292.1 294.8L300.6 295.6L309.1 296.3L317.6 296.8" class="a8"/>
<path d="M241.2 262.7L249.7 299.2L258.2 299.4L266.7 299.5L275.2 299.6L283.6 299.6L292.1 299.6L300.6 299.6L309.1 299.6L317.6 299.6" class="a9"/>
<path d="M241.2 255.9L249.7 298.7L258.2 299.2L266.7 299.4L275.2 299.5L283.6 299.5L292.1 299.6L300.6 299.6L309.1 299.6L317.6 299.6" class="a10"/>
<path d="M241.2 254.9L249.7 299.2L258.2 299.4L266.7 299.5L275.2 299.6L283.6 299.6L292.1 299.6L300.6 299.6L309.1 299.6L317.6 299.6" class="a11"/>
</g>
<rect x="241.20" y="241.30" width="76.40" height="58.40" fill="none" stroke="#a0a0a0" stroke-width="0.4"/>
<g class="tk"><text x="241.20" y="306.00" text-anchor="middle">0</text><text x="256.48" y="306.00" text-anchor="middle">100</text><text x="271.76" y="306.00" text-anchor="middle">200</text><text x="287.04" y="306.00" text-anchor="middle">300</text><text x="302.32" y="306.00" text-anchor="middle">400</text><text x="317.60" y="306.00" text-anchor="middle">500</text><text x="239.60" y="301.20" text-anchor="end">0</text><text x="239.60" y="291.47" text-anchor="end">2</text><text x="239.60" y="281.73" text-anchor="end">4</text><text x="239.60" y="272.00" text-anchor="end">6</text><text x="239.60" y="262.27" text-anchor="end">8</text><text x="239.60" y="252.53" text-anchor="end">10</text><text x="239.60" y="242.80" text-anchor="end">12</text></g>
<text class="tk ex" x="241.50" y="240.30">×10<tspan class="sup" dy="-2.0">8</tspan></text>
<text class="ti" x="279.40" y="239.90" text-anchor="middle">CEC-2017 F13 D=100</text>
<text class="lb" x="279.40" y="311.60" text-anchor="middle">Iterations</text>
<text class="lb" transform="translate(232.50,270.50) rotate(-90)" text-anchor="middle">Mean Fitness</text>
<path d="M367.00,241.30V299.70M382.50,241.30V299.70M398.00,241.30V299.70M413.50,241.30V299.70M351.50,280.23H429.00M351.50,260.77H429.00" stroke="#e6e6e6" stroke-width="0.35" fill="none"/>
<g clip-path="url(#c13)">
<path d="M351.5 254.9L360.1 297.3L368.7 298.6L377.3 299.1L385.9 299.4L394.6 299.5L403.2 299.6L411.8 299.6L420.4 299.6L429.0 299.6" class="a0"/>
<path d="M351.5 253.0L360.1 297.8L368.7 298.8L377.3 299.2L385.9 299.4L394.6 299.5L403.2 299.6L411.8 299.6L420.4 299.6L429.0 299.6" class="a1"/>
<path d="M351.5 255.9L360.1 296.8L368.7 298.3L377.3 299.0L385.9 299.3L394.6 299.5L403.2 299.6L411.8 299.6L420.4 299.6L429.0 299.6" class="a2"/>
<path d="M351.5 251.0L360.1 298.2L368.7 299.0L377.3 299.3L385.9 299.5L394.6 299.5L403.2 299.6L411.8 299.6L420.4 299.6L429.0 299.6" class="a3"/>
<path d="M351.5 259.8L360.1 290.9L368.7 296.0L377.3 298.1L385.9 298.9L394.6 299.3L403.2 299.4L411.8 299.5L420.4 299.5L429.0 299.5" class="a4"/>
<path d="M351.5 254.0L360.1 296.8L368.7 298.3L377.3 299.0L385.9 299.3L394.6 299.5L403.2 299.6L411.8 299.6L420.4 299.6L429.0 299.6" class="a5"/>
<path d="M351.5 254.9L360.1 285.1L368.7 290.0L377.3 291.4L385.9 292.4L394.6 293.4L403.2 294.3L411.8 294.8L420.4 295.3L429.0 295.8" class="a6"/>
<path d="M351.5 249.1L360.1 285.1L368.7 294.8L377.3 298.7L385.9 299.4L394.6 299.6L403.2 299.7L411.8 299.7L420.4 299.7L429.0 299.7" class="a7"/>
<path d="M351.5 250.1L360.1 297.8L368.7 298.8L377.3 299.2L385.9 299.4L394.6 299.5L403.2 299.6L411.8 299.6L420.4 299.6L429.0 299.6" class="a8"/>
<path d="M351.5 257.8L360.1 298.7L368.7 299.3L377.3 299.5L385.9 299.6L394.6 299.7L403.2 299.7L411.8 299.7L420.4 299.7L429.0 299.7" class="a9"/>
<path d="M351.5 256.9L360.1 298.2L368.7 299.0L377.3 299.3L385.9 299.5L394.6 299.5L403.2 299.6L411.8 299.6L420.4 299.6L429.0 299.6" class="a10"/>
<path d="M351.5 255.9L360.1 299.2L368.7 299.5L377.3 299.6L385.9 299.7L394.6 299.7L403.2 299.7L411.8 299.7L420.4 299.7L429.0 299.7" class="a11"/>
</g>
<rect x="351.50" y="241.30" width="77.50" height="58.40" fill="none" stroke="#a0a0a0" stroke-width="0.4"/>
<g class="tk"><text x="351.50" y="306.00" text-anchor="middle">0</text><text x="367.00" y="306.00" text-anchor="middle">100</text><text x="382.50" y="306.00" text-anchor="middle">200</text><text x="398.00" y="306.00" text-anchor="middle">300</text><text x="413.50" y="306.00" text-anchor="middle">400</text><text x="429.00" y="306.00" text-anchor="middle">500</text><text x="349.90" y="301.20" text-anchor="end">0</text><text x="349.90" y="281.73" text-anchor="end">2</text><text x="349.90" y="262.27" text-anchor="end">4</text><text x="349.90" y="242.80" text-anchor="end">6</text></g>
<text class="tk ex" x="351.80" y="240.30">×10<tspan class="sup" dy="-2.0">10</tspan></text>
<text class="ti" x="390.25" y="239.90" text-anchor="middle">CEC-2017 F14 D=100</text>
<text class="lb" x="390.25" y="311.60" text-anchor="middle">Iterations</text>
<text class="lb" transform="translate(345.10,270.50) rotate(-90)" text-anchor="middle">Mean Fitness</text>
<path d="M477.98,241.30V299.70M493.56,241.30V299.70M509.14,241.30V299.70M524.72,241.30V299.70M462.40,288.02H540.30M462.40,276.34H540.30M462.40,264.66H540.30M462.40,252.98H540.30" stroke="#e6e6e6" stroke-width="0.35" fill="none"/>
<g clip-path="url(#c14)">
<path d="M462.4 254.1L471.1 284.5L479.7 286.8L488.4 288.5L497.0 289.7L505.7 290.6L514.3 291.3L523.0 291.8L531.6 292.2L540.3 292.5" class="a0"/>
<path d="M462.4 253.0L471.1 283.9L479.7 285.7L488.4 287.1L497.0 288.1L505.7 288.8L514.3 289.4L523.0 289.8L531.6 290.1L540.3 290.3" class="a1"/>
<path d="M462.4 251.8L471.1 281.0L479.7 282.7L488.4 284.0L497.0 284.8L505.7 285.4L514.3 285.8L523.0 286.1L531.6 286.3L540.3 286.5" class="a2"/>
<path d="M462.4 250.6L471.1 283.3L479.7 285.0L488.4 286.2L497.0 287.2L505.7 287.8L514.3 288.3L523.0 288.7L531.6 289.0L540.3 289.2" class="a3"/>
<path d="M462.4 255.3L471.1 282.8L479.7 285.2L488.4 287.0L497.0 288.3L505.7 289.3L514.3 290.0L523.0 290.6L531.6 291.0L540.3 291.3" class="a4"/>
<path d="M462.4 254.1L471.1 284.5L479.7 286.9L488.4 288.7L497.0 290.1L505.7 291.0L514.3 291.8L523.0 292.3L531.6 292.7L540.3 293.0" class="a5"/>
<path d="M462.4 253.0L471.1 275.2L479.7 277.4L488.4 279.0L497.0 280.1L505.7 280.9L514.3 281.4L523.0 281.8L531.6 282.1L540.3 282.3" class="a6"/>
<path d="M462.4 251.8L471.1 277.5L479.7 280.2L488.4 282.3L497.0 283.7L505.7 284.9L514.3 285.7L523.0 286.3L531.6 286.7L540.3 287.1" class="a7"/>
<path d="M462.4 249.5L471.1 281.0L479.7 282.2L488.4 283.1L497.0 283.8L505.7 284.3L514.3 284.6L523.0 284.9L531.6 285.1L540.3 285.3" class="a8"/>
<path d="M462.4 254.1L471.1 284.5L479.7 286.1L488.4 287.1L497.0 287.8L505.7 288.2L514.3 288.6L523.0 288.8L531.6 288.9L540.3 289.0" class="a9"/>
<path d="M462.4 253.0L471.1 285.1L479.7 286.8L488.4 288.0L497.0 288.9L505.7 289.6L514.3 290.1L523.0 290.5L531.6 290.7L540.3 290.9" class="a10"/>
<path d="M462.4 254.7L471.1 285.7L479.7 287.0L488.4 288.1L497.0 288.8L505.7 289.4L514.3 289.8L523.0 290.1L531.6 290.3L540.3 290.5" class="a11"/>
</g>
<rect x="462.40" y="241.30" width="77.90" height="58.40" fill="none" stroke="#a0a0a0" stroke-width="0.4"/>
<g class="tk"><text x="462.40" y="306.00" text-anchor="middle">0</text><text x="477.98" y="306.00" text-anchor="middle">100</text><text x="493.56" y="306.00" text-anchor="middle">200</text><text x="509.14" y="306.00" text-anchor="middle">300</text><text x="524.72" y="306.00" text-anchor="middle">400</text><text x="540.30" y="306.00" text-anchor="middle">500</text><text x="460.80" y="301.20" text-anchor="end">0</text><text x="460.80" y="289.52" text-anchor="end">1</text><text x="460.80" y="277.84" text-anchor="end">2</text><text x="460.80" y="266.16" text-anchor="end">3</text><text x="460.80" y="254.48" text-anchor="end">4</text><text x="460.80" y="242.80" text-anchor="end">5</text></g>
<text class="tk ex" x="462.70" y="240.30">×10<tspan class="sup" dy="-2.0">4</tspan></text>
<text class="ti" x="501.35" y="239.90" text-anchor="middle">CEC-2017 F15 D=100</text>
<text class="lb" x="501.35" y="311.60" text-anchor="middle">Iterations</text>
<text class="lb" transform="translate(456.00,270.50) rotate(-90)" text-anchor="middle">Mean Fitness</text>
<path d="M33.72,326.30V384.70M48.94,326.30V384.70M64.16,326.30V384.70M79.38,326.30V384.70M18.50,365.23H94.60M18.50,345.77H94.60" stroke="#e6e6e6" stroke-width="0.35" fill="none"/>
<g clip-path="url(#c15)">
<path d="M18.5 342.7L27.0 384.7L35.4 384.7L43.9 384.7L52.3 384.7L60.8 384.7L69.2 384.7L77.7 384.7L86.1 384.7L94.6 384.7" class="a0"/>
<path d="M18.5 331.0L27.0 384.7L35.4 384.7L43.9 384.7L52.3 384.7L60.8 384.7L69.2 384.7L77.7 384.7L86.1 384.7L94.6 384.7" class="a1"/>
<path d="M18.5 348.9L27.0 384.7L35.4 384.7L43.9 384.7L52.3 384.7L60.8 384.7L69.2 384.7L77.7 384.7L86.1 384.7L94.6 384.7" class="a2"/>
<path d="M18.5 345.0L27.0 384.7L35.4 384.7L43.9 384.7L52.3 384.7L60.8 384.7L69.2 384.7L77.7 384.7L86.1 384.7L94.6 384.7" class="a3"/>
<path d="M18.5 350.0L27.0 384.7L35.4 384.7L43.9 384.7L52.3 384.7L60.8 384.7L69.2 384.7L77.7 384.7L86.1 384.7L94.6 384.7" class="a4"/>
<path d="M18.5 343.4L27.0 384.7L35.4 384.7L43.9 384.7L52.3 384.7L60.8 384.7L69.2 384.7L77.7 384.7L86.1 384.7L94.6 384.7" class="a5"/>
<path d="M18.5 346.5L27.0 384.7L35.4 384.7L43.9 384.7L52.3 384.7L60.8 384.7L69.2 384.7L77.7 384.7L86.1 384.7L94.6 384.7" class="a6"/>
<path d="M18.5 327.9L27.0 384.7L35.4 384.7L43.9 384.7L52.3 384.7L60.8 384.7L69.2 384.7L77.7 384.7L86.1 384.7L94.6 384.7" class="a7"/>
<path d="M18.5 332.1L27.0 384.7L35.4 384.7L43.9 384.7L52.3 384.7L60.8 384.7L69.2 384.7L77.7 384.7L86.1 384.7L94.6 384.7" class="a8"/>
<path d="M18.5 345.8L27.0 384.7L35.4 384.7L43.9 384.7L52.3 384.7L60.8 384.7L69.2 384.7L77.7 384.7L86.1 384.7L94.6 384.7" class="a9"/>
<path d="M18.5 355.5L27.0 384.7L35.4 384.7L43.9 384.7L52.3 384.7L60.8 384.7L69.2 384.7L77.7 384.7L86.1 384.7L94.6 384.7" class="a10"/>
<path d="M18.5 357.8L27.0 384.7L35.4 384.7L43.9 384.7L52.3 384.7L60.8 384.7L69.2 384.7L77.7 384.7L86.1 384.7L94.6 384.7" class="a11"/>
</g>
<rect x="18.50" y="326.30" width="76.10" height="58.40" fill="none" stroke="#a0a0a0" stroke-width="0.4"/>
<g class="tk"><text x="18.50" y="391.00" text-anchor="middle">0</text><text x="33.72" y="391.00" text-anchor="middle">100</text><text x="48.94" y="391.00" text-anchor="middle">200</text><text x="64.16" y="391.00" text-anchor="middle">300</text><text x="79.38" y="391.00" text-anchor="middle">400</text><text x="94.60" y="391.00" text-anchor="middle">500</text><text x="16.90" y="386.20" text-anchor="end">0</text><text x="16.90" y="366.73" text-anchor="end">5</text><text x="16.90" y="347.27" text-anchor="end">10</text><text x="16.90" y="327.80" text-anchor="end">15</text></g>
<text class="tk ex" x="18.80" y="325.30">×10<tspan class="sup" dy="-2.0">7</tspan></text>
<text class="ti" x="56.55" y="324.90" text-anchor="middle">CEC-2017 F16 D=100</text>
<text class="lb" x="56.55" y="396.60" text-anchor="middle">Iterations</text>
<text class="lb" transform="translate(9.80,355.50) rotate(-90)" text-anchor="middle">Mean Fitness</text>
<path d="M145.54,326.30V384.70M160.58,326.30V384.70M175.62,326.30V384.70M190.66,326.30V384.70M130.50,370.10H205.70M130.50,355.50H205.70M130.50,340.90H205.70" stroke="#e6e6e6" stroke-width="0.35" fill="none"/>
<g clip-path="url(#c16)">
<path d="M130.5 340.9L138.9 382.4L147.2 383.6L155.6 384.1L163.9 384.4L172.3 384.5L180.6 384.5L189.0 384.5L197.3 384.5L205.7 384.6" class="a0"/>
<path d="M130.5 342.4L138.9 381.8L147.2 383.3L155.6 384.0L163.9 384.3L172.3 384.4L180.6 384.5L189.0 384.5L197.3 384.5L205.7 384.5" class="a1"/>
<path d="M130.5 343.8L138.9 381.2L147.2 383.0L155.6 383.8L163.9 384.1L172.3 384.3L180.6 384.3L189.0 384.4L197.3 384.4L205.7 384.4" class="a2"/>
<path d="M130.5 343.2L138.9 382.9L147.2 383.8L155.6 384.2L163.9 384.4L172.3 384.5L180.6 384.5L189.0 384.5L197.3 384.5L205.7 384.6" class="a3"/>
<path d="M130.5 346.7L138.9 381.8L147.2 383.2L155.6 383.9L163.9 384.2L172.3 384.3L180.6 384.4L189.0 384.4L197.3 384.4L205.7 384.4" class="a4"/>
<path d="M130.5 342.4L138.9 382.4L147.2 383.6L155.6 384.1L163.9 384.4L172.3 384.5L180.6 384.5L189.0 384.5L197.3 384.5L205.7 384.6" class="a5"/>
<path d="M130.5 345.3L138.9 380.3L147.2 381.9L155.6 382.8L163.9 383.2L172.3 383.5L180.6 383.6L189.0 383.7L197.3 383.8L205.7 383.8" class="a6"/>
<path d="M130.5 327.8L138.9 380.3L147.2 382.6L155.6 383.6L163.9 384.0L172.3 384.2L180.6 384.3L189.0 384.4L197.3 384.4L205.7 384.4" class="a7"/>
<path d="M130.5 332.7L138.9 370.4L147.2 373.3L155.6 375.1L163.9 376.5L172.3 377.4L180.6 378.0L189.0 379.2L197.3 380.0L205.7 380.6" class="a8"/>
<path d="M130.5 345.3L138.9 383.8L147.2 384.3L155.6 384.5L163.9 384.6L172.3 384.7L180.6 384.7L189.0 384.7L197.3 384.7L205.7 384.7" class="a9"/>
<path d="M130.5 342.4L138.9 383.2L147.2 384.0L155.6 384.4L163.9 384.6L172.3 384.6L180.6 384.7L189.0 384.7L197.3 384.7L205.7 384.7" class="a10"/>
<path d="M130.5 340.3L138.9 384.1L147.2 384.4L155.6 384.6L163.9 384.6L172.3 384.7L180.6 384.7L189.0 384.7L197.3 384.7L205.7 384.7" class="a11"/>
</g>
<rect x="130.50" y="326.30" width="75.20" height="58.40" fill="none" stroke="#a0a0a0" stroke-width="0.4"/>
<g class="tk"><text x="130.50" y="391.00" text-anchor="middle">0</text><text x="145.54" y="391.00" text-anchor="middle">100</text><text x="160.58" y="391.00" text-anchor="middle">200</text><text x="175.62" y="391.00" text-anchor="middle">300</text><text x="190.66" y="391.00" text-anchor="middle">400</text><text x="205.70" y="391.00" text-anchor="middle">500</text><text x="128.90" y="386.20" text-anchor="end">0</text><text x="128.90" y="371.60" text-anchor="end">0.5</text><text x="128.90" y="357.00" text-anchor="end">1</text><text x="128.90" y="342.40" text-anchor="end">1.5</text><text x="128.90" y="327.80" text-anchor="end">2</text></g>
<text class="tk ex" x="130.80" y="325.30">×10<tspan class="sup" dy="-2.0">9</tspan></text>
<text class="ti" x="168.10" y="324.90" text-anchor="middle">CEC-2017 F17 D=100</text>
<text class="lb" x="168.10" y="396.60" text-anchor="middle">Iterations</text>
<text class="lb" transform="translate(120.60,355.50) rotate(-90)" text-anchor="middle">Mean Fitness</text>
<path d="M255.60,326.30V384.70M271.10,326.30V384.70M286.60,326.30V384.70M302.10,326.30V384.70M240.10,365.23H317.60M240.10,345.77H317.60" stroke="#e6e6e6" stroke-width="0.35" fill="none"/>
<g clip-path="url(#c17)">
<path d="M240.1 337.0L248.7 381.8L257.3 383.3L265.9 384.0L274.5 384.3L283.2 384.5L291.8 384.6L300.4 384.6L309.0 384.6L317.6 384.6" class="a0"/>
<path d="M240.1 336.0L248.7 379.8L257.3 382.5L265.9 383.6L274.5 384.2L283.2 384.4L291.8 384.5L300.4 384.6L309.0 384.6L317.6 384.6" class="a1"/>
<path d="M240.1 339.9L248.7 380.8L257.3 382.9L265.9 383.8L274.5 384.3L283.2 384.4L291.8 384.5L300.4 384.6L309.0 384.6L317.6 384.6" class="a2"/>
<path d="M240.1 335.1L248.7 381.8L257.3 383.3L265.9 384.0L274.5 384.3L283.2 384.5L291.8 384.6L300.4 384.6L309.0 384.6L317.6 384.6" class="a3"/>
<path d="M240.1 341.9L248.7 378.9L257.3 382.0L265.9 383.4L274.5 384.0L283.2 384.3L291.8 384.4L300.4 384.5L309.0 384.5L317.6 384.5" class="a4"/>
<path d="M240.1 338.0L248.7 380.8L257.3 382.9L265.9 383.8L274.5 384.3L283.2 384.4L291.8 384.5L300.4 384.6L309.0 384.6L317.6 384.6" class="a5"/>
<path d="M240.1 338.0L248.7 367.7L257.3 372.0L265.9 374.7L274.5 376.4L283.2 377.9L291.8 379.1L300.4 379.6L309.0 380.2L317.6 380.6" class="a6"/>
<path d="M240.1 333.1L248.7 372.0L257.3 380.3L265.9 383.2L274.5 384.2L283.2 384.5L291.8 384.7L300.4 384.7L309.0 384.7L317.6 384.7" class="a7"/>
<path d="M240.1 334.1L248.7 376.9L257.3 381.8L265.9 383.7L274.5 384.4L283.2 384.6L291.8 384.7L300.4 384.7L309.0 384.7L317.6 384.7" class="a8"/>
<path d="M240.1 340.9L248.7 383.7L257.3 384.3L265.9 384.5L274.5 384.6L283.2 384.7L291.8 384.7L300.4 384.7L309.0 384.7L317.6 384.7" class="a9"/>
<path d="M240.1 341.9L248.7 382.8L257.3 383.8L265.9 384.3L274.5 384.5L283.2 384.6L291.8 384.7L300.4 384.7L309.0 384.7L317.6 384.7" class="a10"/>
<path d="M240.1 342.8L248.7 384.2L257.3 384.5L265.9 384.6L274.5 384.7L283.2 384.7L291.8 384.7L300.4 384.7L309.0 384.7L317.6 384.7" class="a11"/>
</g>
<rect x="240.10" y="326.30" width="77.50" height="58.40" fill="none" stroke="#a0a0a0" stroke-width="0.4"/>
<g class="tk"><text x="240.10" y="391.00" text-anchor="middle">0</text><text x="255.60" y="391.00" text-anchor="middle">100</text><text x="271.10" y="391.00" text-anchor="middle">200</text><text x="286.60" y="391.00" text-anchor="middle">300</text><text x="302.10" y="391.00" text-anchor="middle">400</text><text x="317.60" y="391.00" text-anchor="middle">500</text><text x="238.50" y="386.20" text-anchor="end">0</text><text x="238.50" y="366.73" text-anchor="end">2</text><text x="238.50" y="347.27" text-anchor="end">4</text><text x="238.50" y="327.80" text-anchor="end">6</text></g>
<text class="tk ex" x="240.40" y="325.30">×10<tspan class="sup" dy="-2.0">10</tspan></text>
<text class="ti" x="278.85" y="324.90" text-anchor="middle">CEC-2017 F18 D=100</text>
<text class="lb" x="278.85" y="396.60" text-anchor="middle">Iterations</text>
<text class="lb" transform="translate(233.70,355.50) rotate(-90)" text-anchor="middle">Mean Fitness</text>
<path d="M374.20,326.30V384.70M387.90,326.30V384.70M401.60,326.30V384.70M415.30,326.30V384.70M360.50,374.97H429.00M360.50,365.23H429.00M360.50,355.50H429.00M360.50,345.77H429.00M360.50,336.03H429.00" stroke="#e6e6e6" stroke-width="0.35" fill="none"/>
<g clip-path="url(#c18)">
<path d="M360.5 339.0L368.1 353.6L375.7 356.5L383.3 359.4L390.9 361.3L398.6 363.3L406.2 366.2L413.8 369.1L421.4 375.9L429.0 379.3" class="a0"/>
<path d="M360.5 338.5L368.1 352.6L375.7 356.0L383.3 358.4L390.9 360.9L398.6 362.3L406.2 366.2L413.8 369.1L421.4 372.0L429.0 374.0" class="a1"/>
<path d="M360.5 338.0L368.1 357.4L375.7 360.4L383.3 361.3L390.9 361.3L398.6 362.3L406.2 364.3L413.8 367.2L421.4 371.1L429.0 377.4" class="a2"/>
<path d="M360.5 337.0L368.1 350.6L375.7 352.0L383.3 353.3L390.9 354.6L398.6 356.0L406.2 357.3L413.8 358.7L421.4 360.0L429.0 361.3" class="a3"/>
<path d="M360.5 339.0L368.1 351.6L375.7 353.2L383.3 354.8L390.9 356.4L398.6 357.9L406.2 359.5L413.8 361.1L421.4 362.7L429.0 364.3" class="a4"/>
<path d="M360.5 339.9L368.1 357.9L375.7 369.2L383.3 377.1L390.9 380.4L398.6 381.4L406.2 382.2L413.8 382.6L421.4 382.9L429.0 383.1" class="a5"/>
<path d="M360.5 338.0L368.1 348.7L375.7 349.9L383.3 351.1L390.9 352.3L398.6 353.6L406.2 354.8L413.8 356.0L421.4 357.2L429.0 358.4" class="a6"/>
<path d="M360.5 337.0L368.1 347.7L375.7 349.5L383.3 351.4L390.9 353.2L398.6 355.0L406.2 356.8L413.8 358.7L421.4 360.5L429.0 362.3" class="a7"/>
<path d="M360.5 336.0L368.1 345.8L375.7 347.2L383.3 348.7L390.9 349.7L398.6 350.1L406.2 351.1L413.8 351.6L421.4 352.1L429.0 352.6" class="a8"/>
<path d="M360.5 338.0L368.1 349.7L375.7 353.6L383.3 355.5L390.9 357.4L398.6 358.4L406.2 359.4L413.8 359.9L421.4 360.4L429.0 360.9" class="a9"/>
<path d="M360.5 339.0L368.1 352.6L375.7 354.8L383.3 357.0L390.9 359.1L398.6 361.3L406.2 363.5L413.8 365.7L421.4 367.9L429.0 370.1" class="a10"/>
<path d="M360.5 339.4L368.1 353.1L375.7 356.5L383.3 359.4L390.9 362.8L398.6 364.3L406.2 365.2L413.8 367.2L421.4 369.1L429.0 371.1" class="a11"/>
</g>
<rect x="360.50" y="326.30" width="68.50" height="58.40" fill="none" stroke="#a0a0a0" stroke-width="0.4"/>
<g class="tk"><text x="360.50" y="391.00" text-anchor="middle">0</text><text x="374.20" y="391.00" text-anchor="middle">100</text><text x="387.90" y="391.00" text-anchor="middle">200</text><text x="401.60" y="391.00" text-anchor="middle">300</text><text x="415.30" y="391.00" text-anchor="middle">400</text><text x="429.00" y="391.00" text-anchor="middle">500</text><text x="358.90" y="386.20" text-anchor="end">5000</text><text x="358.90" y="376.47" text-anchor="end">6000</text><text x="358.90" y="366.73" text-anchor="end">7000</text><text x="358.90" y="357.00" text-anchor="end">8000</text><text x="358.90" y="347.27" text-anchor="end">9000</text><text x="358.90" y="337.53" text-anchor="end">10000</text><text x="358.90" y="327.80" text-anchor="end">11000</text></g>
<text class="ti" x="394.75" y="324.90" text-anchor="middle">CEC-2017 F19 D=100</text>
<text class="lb" x="394.75" y="396.60" text-anchor="middle">Iterations</text>
<text class="lb" transform="translate(344.90,355.50) rotate(-90)" text-anchor="middle">Mean Fitness</text>
<path d="M482.78,326.30V384.70M497.16,326.30V384.70M511.54,326.30V384.70M525.92,326.30V384.70M468.40,384.51H540.30M468.40,365.10H540.30M468.40,345.70H540.30" stroke="#e6e6e6" stroke-width="0.35" fill="none"/>
<g clip-path="url(#c19)">
<path d="M468.4 336.0L476.4 368.0L484.4 370.9L492.4 372.9L500.4 374.8L508.3 376.7L516.3 378.7L524.3 380.6L532.3 382.6L540.3 385.5" class="a0"/>
<path d="M468.4 335.0L476.4 367.0L484.4 369.1L492.4 370.4L500.4 371.4L508.3 372.4L516.3 373.3L524.3 374.2L532.3 375.0L540.3 375.8" class="a1"/>
<path d="M468.4 334.1L476.4 357.3L484.4 359.3L492.4 361.2L500.4 363.2L508.3 364.1L516.3 365.1L524.3 366.1L532.3 367.0L540.3 370.0" class="a2"/>
<path d="M468.4 334.1L476.4 369.0L484.4 370.1L492.4 371.2L500.4 372.3L508.3 373.3L516.3 374.4L524.3 375.5L532.3 376.6L540.3 377.7" class="a3"/>
<path d="M468.4 335.0L476.4 359.3L484.4 360.9L492.4 362.4L500.4 364.0L508.3 365.6L516.3 367.2L524.3 368.7L532.3 370.3L540.3 371.9" class="a4"/>
<path d="M468.4 337.0L476.4 368.0L484.4 370.0L492.4 371.9L500.4 373.8L508.3 375.8L516.3 377.7L524.3 379.7L532.3 381.6L540.3 383.5" class="a5"/>
<path d="M468.4 333.1L476.4 345.7L484.4 349.6L492.4 351.5L500.4 353.5L508.3 355.4L516.3 356.4L524.3 357.3L532.3 358.3L540.3 359.3" class="a6"/>
<path d="M468.4 333.1L476.4 349.6L484.4 357.3L492.4 361.2L500.4 364.1L508.3 367.0L516.3 369.0L524.3 370.9L532.3 371.9L540.3 372.9" class="a7"/>
<path d="M468.4 334.1L476.4 351.5L484.4 359.3L492.4 363.2L500.4 365.1L508.3 367.0L516.3 369.0L524.3 370.9L532.3 371.9L540.3 373.8" class="a8"/>
<path d="M468.4 336.0L476.4 370.9L484.4 373.8L492.4 374.8L500.4 375.8L508.3 376.7L516.3 377.7L524.3 378.3L532.3 378.7L540.3 378.7" class="a9"/>
<path d="M468.4 336.0L476.4 369.0L484.4 370.4L492.4 371.9L500.4 373.3L508.3 374.8L516.3 376.3L524.3 377.7L532.3 379.2L540.3 380.6" class="a10"/>
<path d="M468.4 335.0L476.4 368.0L484.4 369.5L492.4 370.9L500.4 372.4L508.3 373.8L516.3 375.3L524.3 376.7L532.3 378.2L540.3 379.7" class="a11"/>
</g>
<rect x="468.40" y="326.30" width="71.90" height="58.40" fill="none" stroke="#a0a0a0" stroke-width="0.4"/>
<g class="tk"><text x="468.40" y="391.00" text-anchor="middle">0</text><text x="482.78" y="391.00" text-anchor="middle">100</text><text x="497.16" y="391.00" text-anchor="middle">200</text><text x="511.54" y="391.00" text-anchor="middle">300</text><text x="525.92" y="391.00" text-anchor="middle">400</text><text x="540.30" y="391.00" text-anchor="middle">500</text><text x="466.80" y="386.01" text-anchor="end">3000</text><text x="466.80" y="366.60" text-anchor="end">4000</text><text x="466.80" y="347.20" text-anchor="end">5000</text><text x="466.80" y="327.80" text-anchor="end">6000</text></g>
<text class="ti" x="504.35" y="324.90" text-anchor="middle">CEC-2017 F20 D=100</text>
<text class="lb" x="504.35" y="396.60" text-anchor="middle">Iterations</text>
<text class="lb" transform="translate(455.10,355.50) rotate(-90)" text-anchor="middle">Mean Fitness</text>
<path d="M34.44,412.30V470.70M49.48,412.30V470.70M64.52,412.30V470.70M79.56,412.30V470.70M19.40,456.10H94.60M19.40,441.50H94.60M19.40,426.90H94.60" stroke="#e6e6e6" stroke-width="0.35" fill="none"/>
<g clip-path="url(#c20)">
<path d="M19.4 415.2L27.8 424.0L36.1 424.9L44.5 426.1L52.8 427.7L61.2 429.3L69.5 431.1L77.9 433.0L86.2 435.0L94.6 437.1" class="a0"/>
<path d="M19.4 415.2L27.8 424.0L36.1 425.0L44.5 426.4L52.8 428.1L61.2 429.9L69.5 431.9L77.9 434.0L86.2 436.3L94.6 438.6" class="a1"/>
<path d="M19.4 415.2L27.8 426.9L36.1 427.5L44.5 428.4L52.8 429.8L61.2 431.3L69.5 432.7L77.9 434.2L86.2 436.2L94.6 445.0" class="a2"/>
<path d="M19.4 415.2L27.8 423.1L36.1 423.7L44.5 424.2L52.8 424.7L61.2 425.3L69.5 425.8L77.9 426.4L86.2 426.9L94.6 427.5" class="a3"/>
<path d="M19.4 415.2L27.8 426.9L36.1 432.7L44.5 434.2L52.8 435.7L61.2 437.1L69.5 438.6L77.9 439.2L86.2 440.0L94.6 441.5" class="a4"/>
<path d="M19.4 415.2L27.8 429.8L36.1 437.1L44.5 445.9L52.8 452.6L61.2 456.7L69.5 459.6L77.9 461.4L86.2 462.5L94.6 463.4" class="a5"/>
<path d="M19.4 415.2L27.8 424.0L36.1 424.5L44.5 425.1L52.8 425.6L61.2 426.2L69.5 426.7L77.9 427.3L86.2 427.8L94.6 428.4" class="a6"/>
<path d="M19.4 415.2L27.8 423.4L36.1 424.7L44.5 426.1L52.8 427.4L61.2 428.8L69.5 430.1L77.9 431.5L86.2 432.8L94.6 434.2" class="a7"/>
<path d="M19.4 415.2L27.8 423.4L36.1 423.8L44.5 424.3L52.8 424.7L61.2 425.1L69.5 425.6L77.9 426.0L86.2 426.5L94.6 426.9" class="a8"/>
<path d="M19.4 415.2L27.8 422.5L36.1 423.7L44.5 424.4L52.8 425.0L61.2 425.6L69.5 426.1L77.9 426.6L86.2 427.0L94.6 427.5" class="a9"/>
<path d="M19.4 415.2L27.8 424.0L36.1 424.9L44.5 426.2L52.8 427.6L61.2 429.1L69.5 430.6L77.9 432.3L86.2 433.9L94.6 435.7" class="a10"/>
<path d="M19.4 415.2L27.8 424.0L36.1 425.1L44.5 426.5L52.8 428.0L61.2 429.7L69.5 431.5L77.9 433.3L86.2 435.2L94.6 437.1" class="a11"/>
</g>
<rect x="19.40" y="412.30" width="75.20" height="58.40" fill="none" stroke="#a0a0a0" stroke-width="0.4"/>
<g class="tk"><text x="19.40" y="477.00" text-anchor="middle">0</text><text x="34.44" y="477.00" text-anchor="middle">100</text><text x="49.48" y="477.00" text-anchor="middle">200</text><text x="64.52" y="477.00" text-anchor="middle">300</text><text x="79.56" y="477.00" text-anchor="middle">400</text><text x="94.60" y="477.00" text-anchor="middle">500</text><text x="17.80" y="472.20" text-anchor="end">2</text><text x="17.80" y="457.60" text-anchor="end">2.5</text><text x="17.80" y="443.00" text-anchor="end">3</text><text x="17.80" y="428.40" text-anchor="end">3.5</text><text x="17.80" y="413.80" text-anchor="end">4</text></g>
<text class="tk ex" x="19.70" y="411.30">×10<tspan class="sup" dy="-2.0">4</tspan></text>
<text class="ti" x="57.00" y="410.90" text-anchor="middle">CEC-2017 F21 D=100</text>
<text class="lb" x="57.00" y="482.60" text-anchor="middle">Iterations</text>
<text class="lb" transform="translate(9.50,441.50) rotate(-90)" text-anchor="middle">Mean Fitness</text>
<path d="M148.74,412.30V470.70M162.98,412.30V470.70M177.22,412.30V470.70M191.46,412.30V470.70M134.50,460.97H205.70M134.50,451.23H205.70M134.50,441.50H205.70M134.50,431.77H205.70M134.50,422.03H205.70" stroke="#e6e6e6" stroke-width="0.35" fill="none"/>
<g clip-path="url(#c21)">
<path d="M134.5 429.8L142.4 450.3L150.3 455.1L158.2 457.1L166.1 459.0L174.1 461.0L182.0 462.9L189.9 464.9L197.8 465.8L205.7 466.8" class="a0"/>
<path d="M134.5 428.8L142.4 454.2L150.3 456.4L158.2 457.9L166.1 458.9L174.1 459.6L182.0 460.0L189.9 460.3L197.8 460.6L205.7 460.7" class="a1"/>
<path d="M134.5 422.0L142.4 448.3L150.3 449.3L158.2 450.3L166.1 451.2L174.1 451.7L182.0 452.2L189.9 452.7L197.8 453.7L205.7 455.1" class="a2"/>
<path d="M134.5 419.1L142.4 455.1L150.3 457.2L158.2 458.6L166.1 459.5L174.1 460.2L182.0 460.6L189.9 460.9L197.8 461.1L205.7 461.2" class="a3"/>
<path d="M134.5 424.0L142.4 452.2L150.3 454.5L158.2 456.1L166.1 457.3L174.1 458.1L182.0 458.6L189.9 459.0L197.8 459.3L205.7 459.5" class="a4"/>
<path d="M134.5 421.1L142.4 453.2L150.3 456.1L158.2 458.1L166.1 459.5L174.1 460.5L182.0 461.2L189.9 461.7L197.8 462.1L205.7 462.3" class="a5"/>
<path d="M134.5 418.1L142.4 438.6L150.3 441.0L158.2 442.0L166.1 443.0L174.1 443.4L182.0 443.9L189.9 444.4L197.8 444.9L205.7 445.9" class="a6"/>
<path d="M134.5 417.2L142.4 443.4L150.3 447.3L158.2 450.3L166.1 452.2L174.1 454.2L182.0 455.6L189.9 456.6L197.8 457.6L205.7 458.0" class="a7"/>
<path d="M134.5 420.1L142.4 446.4L150.3 451.2L158.2 454.2L166.1 456.1L174.1 458.0L182.0 459.0L189.9 459.5L197.8 460.0L205.7 460.5" class="a8"/>
<path d="M134.5 422.0L142.4 456.1L150.3 459.5L158.2 460.5L166.1 461.0L174.1 461.5L182.0 461.9L189.9 461.9L197.8 462.4L205.7 462.4" class="a9"/>
<path d="M134.5 417.2L142.4 454.2L150.3 456.7L158.2 458.4L166.1 459.6L174.1 460.4L182.0 460.9L189.9 461.2L197.8 461.5L205.7 461.6" class="a10"/>
<path d="M134.5 416.2L142.4 454.2L150.3 456.9L158.2 458.7L166.1 459.9L174.1 460.8L182.0 461.3L189.9 461.7L197.8 461.9L205.7 462.1" class="a11"/>
</g>
<rect x="134.50" y="412.30" width="71.20" height="58.40" fill="none" stroke="#a0a0a0" stroke-width="0.4"/>
<g class="tk"><text x="134.50" y="477.00" text-anchor="middle">0</text><text x="148.74" y="477.00" text-anchor="middle">100</text><text x="162.98" y="477.00" text-anchor="middle">200</text><text x="177.22" y="477.00" text-anchor="middle">300</text><text x="191.46" y="477.00" text-anchor="middle">400</text><text x="205.70" y="477.00" text-anchor="middle">500</text><text x="132.90" y="472.20" text-anchor="end">3000</text><text x="132.90" y="462.47" text-anchor="end">4000</text><text x="132.90" y="452.73" text-anchor="end">5000</text><text x="132.90" y="443.00" text-anchor="end">6000</text><text x="132.90" y="433.27" text-anchor="end">7000</text><text x="132.90" y="423.53" text-anchor="end">8000</text><text x="132.90" y="413.80" text-anchor="end">9000</text></g>
<text class="ti" x="170.10" y="410.90" text-anchor="middle">CEC-2017 F22 D=100</text>
<text class="lb" x="170.10" y="482.60" text-anchor="middle">Iterations</text>
<text class="lb" transform="translate(121.20,441.50) rotate(-90)" text-anchor="middle">Mean Fitness</text>
<path d="M257.44,412.30V470.70M272.48,412.30V470.70M287.52,412.30V470.70M302.56,412.30V470.70M242.40,460.97H317.60M242.40,451.23H317.60M242.40,441.50H317.60M242.40,431.77H317.60M242.40,422.03H317.60" stroke="#e6e6e6" stroke-width="0.35" fill="none"/>
<g clip-path="url(#c22)">
<path d="M242.4 427.9L250.8 460.0L259.1 462.9L267.5 464.8L275.8 466.1L284.2 467.0L292.5 467.6L300.9 468.0L309.2 468.2L317.6 468.4" class="a0"/>
<path d="M242.4 426.9L250.8 458.0L259.1 461.1L267.5 463.1L275.8 464.5L284.2 465.4L292.5 466.0L300.9 466.5L309.2 466.7L317.6 466.9" class="a1"/>
<path d="M242.4 424.5L250.8 455.1L259.1 457.1L267.5 458.5L275.8 459.5L284.2 460.0L292.5 461.0L300.9 461.5L309.2 461.9L317.6 463.4" class="a2"/>
<path d="M242.4 423.0L250.8 461.0L259.1 462.9L267.5 464.2L275.8 465.0L284.2 465.6L292.5 466.0L300.9 466.3L309.2 466.5L317.6 466.6" class="a3"/>
<path d="M242.4 429.3L250.8 456.1L259.1 459.0L267.5 461.0L275.8 462.4L284.2 463.4L292.5 464.1L300.9 464.6L309.2 465.0L317.6 465.2" class="a4"/>
<path d="M242.4 426.9L250.8 461.0L259.1 463.7L267.5 465.5L275.8 466.7L284.2 467.6L292.5 468.1L300.9 468.5L309.2 468.7L317.6 468.9" class="a5"/>
<path d="M242.4 422.0L250.8 443.9L259.1 446.4L267.5 448.3L275.8 449.3L284.2 450.3L292.5 451.2L300.9 452.2L309.2 453.2L317.6 454.2" class="a6"/>
<path d="M242.4 421.1L250.8 448.8L259.1 453.7L267.5 456.1L275.8 458.5L284.2 460.0L292.5 461.0L300.9 461.9L309.2 462.4L317.6 462.9" class="a7"/>
<path d="M242.4 424.5L250.8 456.1L259.1 459.3L267.5 461.5L275.8 462.9L284.2 463.9L292.5 464.5L300.9 465.0L309.2 465.2L317.6 465.4" class="a8"/>
<path d="M242.4 426.9L250.8 463.4L259.1 466.8L267.5 467.8L275.8 468.3L284.2 468.8L292.5 469.2L300.9 469.2L309.2 469.7L317.6 469.7" class="a9"/>
<path d="M242.4 422.0L250.8 461.9L259.1 464.0L267.5 465.4L275.8 466.4L284.2 467.0L292.5 467.4L300.9 467.7L309.2 467.9L317.6 468.0" class="a10"/>
<path d="M242.4 419.6L250.8 462.9L259.1 464.5L267.5 465.6L275.8 466.3L284.2 466.8L292.5 467.1L300.9 467.3L309.2 467.5L317.6 467.6" class="a11"/>
</g>
<rect x="242.40" y="412.30" width="75.20" height="58.40" fill="none" stroke="#a0a0a0" stroke-width="0.4"/>
<g class="tk"><text x="242.40" y="477.00" text-anchor="middle">0</text><text x="257.44" y="477.00" text-anchor="middle">100</text><text x="272.48" y="477.00" text-anchor="middle">200</text><text x="287.52" y="477.00" text-anchor="middle">300</text><text x="302.56" y="477.00" text-anchor="middle">400</text><text x="317.60" y="477.00" text-anchor="middle">500</text><text x="240.80" y="472.20" text-anchor="end">0.4</text><text x="240.80" y="462.47" text-anchor="end">0.6</text><text x="240.80" y="452.73" text-anchor="end">0.8</text><text x="240.80" y="443.00" text-anchor="end">1</text><text x="240.80" y="433.27" text-anchor="end">1.2</text><text x="240.80" y="423.53" text-anchor="end">1.4</text><text x="240.80" y="413.80" text-anchor="end">1.6</text></g>
<text class="tk ex" x="242.70" y="411.30">×10<tspan class="sup" dy="-2.0">4</tspan></text>
<text class="ti" x="280.00" y="410.90" text-anchor="middle">CEC-2017 F23 D=100</text>
<text class="lb" x="280.00" y="482.60" text-anchor="middle">Iterations</text>
<text class="lb" transform="translate(232.50,441.50) rotate(-90)" text-anchor="middle">Mean Fitness</text>
<path d="M367.72,412.30V470.70M383.04,412.30V470.70M398.36,412.30V470.70M413.68,412.30V470.70M352.40,451.74H429.00M352.40,432.78H429.00M352.40,413.82H429.00" stroke="#e6e6e6" stroke-width="0.35" fill="none"/>
<g clip-path="url(#c23)">
<path d="M352.4 423.3L360.9 464.6L369.4 465.9L377.9 466.7L386.4 467.3L395.0 467.7L403.5 467.9L412.0 468.1L420.5 468.2L429.0 468.3" class="a0"/>
<path d="M352.4 424.1L360.9 465.0L369.4 466.2L377.9 467.0L386.4 467.5L395.0 467.9L403.5 468.1L412.0 468.3L420.5 468.4L429.0 468.5" class="a1"/>
<path d="M352.4 425.2L360.9 463.9L369.4 465.2L377.9 466.2L386.4 466.8L395.0 467.2L403.5 467.5L412.0 467.7L420.5 467.8L429.0 467.9" class="a2"/>
<path d="M352.4 427.1L360.9 466.1L369.4 467.0L377.9 467.6L386.4 468.0L395.0 468.3L403.5 468.4L412.0 468.6L420.5 468.6L429.0 468.7" class="a3"/>
<path d="M352.4 434.7L360.9 463.5L369.4 464.7L377.9 465.6L386.4 466.2L395.0 466.6L403.5 466.9L412.0 467.2L420.5 467.3L429.0 467.4" class="a4"/>
<path d="M352.4 429.0L360.9 464.3L369.4 465.5L377.9 466.3L386.4 466.9L395.0 467.3L403.5 467.5L412.0 467.7L420.5 467.8L429.0 467.9" class="a5"/>
<path d="M352.4 425.2L360.9 460.1L369.4 460.8L377.9 461.2L386.4 461.6L395.0 461.8L403.5 462.0L412.0 462.2L420.5 462.4L429.0 462.4" class="a6"/>
<path d="M352.4 421.4L360.9 451.7L369.4 458.6L377.9 461.2L386.4 462.7L395.0 463.5L403.5 464.3L412.0 465.0L420.5 465.8L429.0 466.1" class="a7"/>
<path d="M352.4 413.1L360.9 438.5L369.4 448.7L377.9 454.4L386.4 457.8L395.0 460.8L403.5 462.7L412.0 464.3L420.5 465.4L429.0 466.1" class="a8"/>
<path d="M352.4 429.0L360.9 467.7L369.4 468.2L377.9 468.5L386.4 468.7L395.0 468.9L403.5 469.0L412.0 469.0L420.5 469.1L429.0 469.1" class="a9"/>
<path d="M352.4 425.2L360.9 466.5L369.4 467.3L377.9 467.8L386.4 468.1L395.0 468.3L403.5 468.5L412.0 468.6L420.5 468.7L429.0 468.7" class="a10"/>
<path d="M352.4 423.7L360.9 466.9L369.4 467.6L377.9 468.1L386.4 468.4L395.0 468.6L403.5 468.7L412.0 468.8L420.5 468.9L429.0 468.9" class="a11"/>
</g>
<rect x="352.40" y="412.30" width="76.60" height="58.40" fill="none" stroke="#a0a0a0" stroke-width="0.4"/>
<g class="tk"><text x="352.40" y="477.00" text-anchor="middle">0</text><text x="367.72" y="477.00" text-anchor="middle">100</text><text x="383.04" y="477.00" text-anchor="middle">200</text><text x="398.36" y="477.00" text-anchor="middle">300</text><text x="413.68" y="477.00" text-anchor="middle">400</text><text x="429.00" y="477.00" text-anchor="middle">500</text><text x="350.80" y="472.20" text-anchor="end">0</text><text x="350.80" y="453.24" text-anchor="end">5</text><text x="350.80" y="434.28" text-anchor="end">10</text><text x="350.80" y="415.32" text-anchor="end">15</text></g>
<text class="tk ex" x="352.70" y="411.30">×10<tspan class="sup" dy="-2.0">4</tspan></text>
<text class="ti" x="390.70" y="410.90" text-anchor="middle">CEC-2017 F24 D=100</text>
<text class="lb" x="390.70" y="482.60" text-anchor="middle">Iterations</text>
<text class="lb" transform="translate(343.70,441.50) rotate(-90)" text-anchor="middle">Mean Fitness</text>
<path d="M478.86,412.30V470.70M494.22,412.30V470.70M509.58,412.30V470.70M524.94,412.30V470.70M463.50,459.02H540.30M463.50,447.34H540.30M463.50,435.66H540.30M463.50,423.98H540.30" stroke="#e6e6e6" stroke-width="0.35" fill="none"/>
<g clip-path="url(#c24)">
<path d="M463.5 421.1L472.0 447.9L480.6 450.8L489.1 452.6L497.6 453.8L506.2 454.3L514.7 454.6L523.2 454.9L531.8 454.9L540.3 454.9" class="a0"/>
<path d="M463.5 418.1L472.0 446.2L480.6 448.4L489.1 450.0L497.6 451.1L506.2 451.9L514.7 452.4L523.2 452.8L531.8 453.1L540.3 453.3" class="a1"/>
<path d="M463.5 417.0L472.0 444.4L480.6 447.0L489.1 448.8L497.6 450.1L506.2 451.0L514.7 451.7L523.2 452.1L531.8 452.4L540.3 452.6" class="a2"/>
<path d="M463.5 418.1L472.0 450.3L480.6 452.5L489.1 454.1L497.6 455.2L506.2 456.0L514.7 456.5L523.2 456.9L531.8 457.2L540.3 457.4" class="a3"/>
<path d="M463.5 426.9L472.0 444.4L480.6 446.7L489.1 448.2L497.6 449.4L506.2 450.1L514.7 450.7L523.2 451.1L531.8 451.4L540.3 451.6" class="a4"/>
<path d="M463.5 419.3L472.0 447.3L480.6 449.8L489.1 451.5L497.6 452.7L506.2 453.5L514.7 454.1L523.2 454.5L531.8 454.8L540.3 455.0" class="a5"/>
<path d="M463.5 416.4L472.0 441.5L480.6 444.4L489.1 445.6L497.6 446.8L506.2 447.3L514.7 447.6L523.2 447.9L531.8 448.2L540.3 448.5" class="a6"/>
<path d="M463.5 413.5L472.0 441.5L480.6 446.2L489.1 448.5L497.6 450.3L506.2 451.4L514.7 452.0L523.2 452.6L531.8 453.2L540.3 453.2" class="a7"/>
<path d="M463.5 415.2L472.0 443.8L480.6 448.5L489.1 452.0L497.6 453.8L506.2 455.5L514.7 456.7L523.2 457.9L531.8 458.4L540.3 459.0" class="a8"/>
<path d="M463.5 418.7L472.0 456.1L480.6 458.4L489.1 459.0L497.6 459.6L506.2 460.2L514.7 460.5L523.2 460.8L531.8 461.1L540.3 461.4" class="a9"/>
<path d="M463.5 420.5L472.0 452.0L480.6 454.1L489.1 455.5L497.6 456.6L506.2 457.3L514.7 457.8L523.2 458.2L531.8 458.4L540.3 458.6" class="a10"/>
<path d="M463.5 421.6L472.0 453.8L480.6 456.1L489.1 457.3L497.6 457.9L506.2 458.4L514.7 459.0L523.2 459.6L531.8 459.6L540.3 459.9" class="a11"/>
</g>
<rect x="463.50" y="412.30" width="76.80" height="58.40" fill="none" stroke="#a0a0a0" stroke-width="0.4"/>
<g class="tk"><text x="463.50" y="477.00" text-anchor="middle">0</text><text x="478.86" y="477.00" text-anchor="middle">100</text><text x="494.22" y="477.00" text-anchor="middle">200</text><text x="509.58" y="477.00" text-anchor="middle">300</text><text x="524.94" y="477.00" text-anchor="middle">400</text><text x="540.30" y="477.00" text-anchor="middle">500</text><text x="461.90" y="472.20" text-anchor="end">0</text><text x="461.90" y="460.52" text-anchor="end">2</text><text x="461.90" y="448.84" text-anchor="end">4</text><text x="461.90" y="437.16" text-anchor="end">6</text><text x="461.90" y="425.48" text-anchor="end">8</text><text x="461.90" y="413.80" text-anchor="end">10</text></g>
<text class="tk ex" x="463.80" y="411.30">×10<tspan class="sup" dy="-2.0">4</tspan></text>
<text class="ti" x="501.90" y="410.90" text-anchor="middle">CEC-2017 F25 D=100</text>
<text class="lb" x="501.90" y="482.60" text-anchor="middle">Iterations</text>
<text class="lb" transform="translate(454.80,441.50) rotate(-90)" text-anchor="middle">Mean Fitness</text>
<path d="M34.44,498.30V556.70M49.48,498.30V556.70M64.52,498.30V556.70M79.56,498.30V556.70M19.40,542.10H94.60M19.40,527.50H94.60M19.40,512.90H94.60" stroke="#e6e6e6" stroke-width="0.35" fill="none"/>
<g clip-path="url(#c25)">
<path d="M19.4 507.1L27.8 536.3L36.1 539.0L44.5 540.8L52.8 542.0L61.2 542.8L69.5 543.3L77.9 543.7L86.2 543.9L94.6 544.1" class="a0"/>
<path d="M19.4 506.5L27.8 535.7L36.1 538.3L44.5 540.0L52.8 541.2L61.2 542.0L69.5 542.5L77.9 542.8L86.2 543.1L94.6 543.2" class="a1"/>
<path d="M19.4 507.1L27.8 533.3L36.1 536.4L44.5 538.5L52.8 539.9L61.2 540.8L69.5 541.4L77.9 541.8L86.2 542.1L94.6 542.3" class="a2"/>
<path d="M19.4 505.6L27.8 545.0L36.1 545.5L44.5 545.8L52.8 546.0L61.2 546.2L69.5 546.3L77.9 546.3L86.2 546.4L94.6 546.4" class="a3"/>
<path d="M19.4 508.5L27.8 533.3L36.1 536.4L44.5 538.5L52.8 539.9L61.2 540.8L69.5 541.4L77.9 541.8L86.2 542.1L94.6 542.3" class="a4"/>
<path d="M19.4 507.1L27.8 534.8L36.1 537.7L44.5 539.6L52.8 540.9L61.2 541.8L69.5 542.4L77.9 542.8L86.2 543.0L94.6 543.2" class="a5"/>
<path d="M19.4 505.6L27.8 524.6L36.1 529.0L44.5 531.9L52.8 533.9L61.2 535.7L69.5 536.8L77.9 537.7L86.2 538.3L94.6 538.6" class="a6"/>
<path d="M19.4 504.7L27.8 529.0L36.1 534.8L44.5 537.7L52.8 539.2L61.2 540.6L69.5 541.5L77.9 542.1L86.2 542.4L94.6 542.7" class="a7"/>
<path d="M19.4 504.1L27.8 546.5L36.1 546.8L44.5 546.8L52.8 546.8L61.2 547.1L69.5 547.1L77.9 547.1L86.2 547.1L94.6 547.1" class="a8"/>
<path d="M19.4 507.6L27.8 540.6L36.1 542.1L44.5 543.1L52.8 543.7L61.2 544.1L69.5 544.4L77.9 544.6L86.2 544.8L94.6 544.8" class="a9"/>
<path d="M19.4 507.1L27.8 539.2L36.1 540.9L44.5 542.1L52.8 542.9L61.2 543.4L69.5 543.7L77.9 544.0L86.2 544.1L94.6 544.2" class="a10"/>
<path d="M19.4 507.1L27.8 543.6L36.1 544.0L44.5 544.4L52.8 544.6L61.2 544.7L69.5 544.8L77.9 544.9L86.2 544.9L94.6 545.0" class="a11"/>
</g>
<rect x="19.40" y="498.30" width="75.20" height="58.40" fill="none" stroke="#a0a0a0" stroke-width="0.4"/>
<g class="tk"><text x="19.40" y="563.00" text-anchor="middle">0</text><text x="34.44" y="563.00" text-anchor="middle">100</text><text x="49.48" y="563.00" text-anchor="middle">200</text><text x="64.52" y="563.00" text-anchor="middle">300</text><text x="79.56" y="563.00" text-anchor="middle">400</text><text x="94.60" y="563.00" text-anchor="middle">500</text><text x="17.80" y="558.20" text-anchor="end">0</text><text x="17.80" y="543.60" text-anchor="end">0.5</text><text x="17.80" y="529.00" text-anchor="end">1</text><text x="17.80" y="514.40" text-anchor="end">1.5</text><text x="17.80" y="499.80" text-anchor="end">2</text></g>
<text class="tk ex" x="19.70" y="497.30">×10<tspan class="sup" dy="-2.0">4</tspan></text>
<text class="ti" x="57.00" y="496.90" text-anchor="middle">CEC-2017 F26 D=100</text>
<text class="lb" x="57.00" y="568.60" text-anchor="middle">Iterations</text>
<text class="lb" transform="translate(9.50,527.50) rotate(-90)" text-anchor="middle">Mean Fitness</text>
<path d="M143.94,498.30V556.70M159.38,498.30V556.70M174.82,498.30V556.70M190.26,498.30V556.70M128.50,542.10H205.70M128.50,527.50H205.70M128.50,512.90H205.70" stroke="#e6e6e6" stroke-width="0.35" fill="none"/>
<g clip-path="url(#c26)">
<path d="M128.5 501.2L137.1 543.6L145.7 546.4L154.2 548.3L162.8 549.7L171.4 550.7L180.0 551.4L188.5 551.9L197.1 552.2L205.7 552.5" class="a0"/>
<path d="M128.5 502.0L137.1 544.3L145.7 546.7L154.2 548.3L162.8 549.5L171.4 550.3L180.0 550.9L188.5 551.3L197.1 551.6L205.7 551.8" class="a1"/>
<path d="M128.5 503.4L137.1 539.9L145.7 542.7L154.2 544.9L162.8 546.4L171.4 547.6L180.0 548.4L188.5 549.0L197.1 549.5L205.7 549.9" class="a2"/>
<path d="M128.5 499.8L137.1 546.5L145.7 548.3L154.2 549.6L162.8 550.5L171.4 551.2L180.0 551.6L188.5 551.9L197.1 552.1L205.7 552.3" class="a3"/>
<path d="M128.5 512.9L137.1 538.5L145.7 541.3L154.2 543.4L162.8 544.9L171.4 546.1L180.0 547.0L188.5 547.6L197.1 548.1L205.7 548.4" class="a4"/>
<path d="M128.5 504.1L137.1 539.2L145.7 541.9L154.2 544.0L162.8 545.5L171.4 546.6L180.0 547.4L188.5 548.0L197.1 548.5L205.7 548.8" class="a5"/>
<path d="M128.5 501.2L137.1 535.2L145.7 537.7L154.2 538.5L162.8 538.9L171.4 539.2L180.0 539.3L188.5 539.5L197.1 539.6L205.7 539.8" class="a6"/>
<path d="M128.5 499.0L137.1 526.0L145.7 532.6L154.2 536.3L162.8 539.2L171.4 541.4L180.0 542.8L188.5 544.3L197.1 545.4L205.7 546.1" class="a7"/>
<path d="M128.5 498.3L137.1 554.5L145.7 554.5L154.2 554.5L162.8 554.5L171.4 554.5L180.0 554.5L188.5 554.5L197.1 554.5L205.7 554.5" class="a8"/>
<path d="M128.5 502.7L137.1 547.9L145.7 549.8L154.2 551.0L162.8 551.7L171.4 552.2L180.0 552.5L188.5 552.7L197.1 552.8L205.7 552.9" class="a9"/>
<path d="M128.5 505.6L137.1 545.8L145.7 547.7L154.2 549.1L162.8 550.0L171.4 550.7L180.0 551.2L188.5 551.5L197.1 551.8L205.7 551.9" class="a10"/>
<path d="M128.5 506.3L137.1 545.0L145.7 547.3L154.2 548.9L162.8 550.0L171.4 550.8L180.0 551.4L188.5 551.7L197.1 552.0L205.7 552.2" class="a11"/>
</g>
<rect x="128.50" y="498.30" width="77.20" height="58.40" fill="none" stroke="#a0a0a0" stroke-width="0.4"/>
<g class="tk"><text x="128.50" y="563.00" text-anchor="middle">0</text><text x="143.94" y="563.00" text-anchor="middle">100</text><text x="159.38" y="563.00" text-anchor="middle">200</text><text x="174.82" y="563.00" text-anchor="middle">300</text><text x="190.26" y="563.00" text-anchor="middle">400</text><text x="205.70" y="563.00" text-anchor="middle">500</text><text x="126.90" y="558.20" text-anchor="end">0</text><text x="126.90" y="543.60" text-anchor="end">2</text><text x="126.90" y="529.00" text-anchor="end">4</text><text x="126.90" y="514.40" text-anchor="end">6</text><text x="126.90" y="499.80" text-anchor="end">8</text></g>
<text class="tk ex" x="128.80" y="497.30">×10<tspan class="sup" dy="-2.0">4</tspan></text>
<text class="ti" x="167.10" y="496.90" text-anchor="middle">CEC-2017 F27 D=100</text>
<text class="lb" x="167.10" y="568.60" text-anchor="middle">Iterations</text>
<text class="lb" transform="translate(122.10,527.50) rotate(-90)" text-anchor="middle">Mean Fitness</text>
<path d="M257.44,498.30V556.70M272.48,498.30V556.70M287.52,498.30V556.70M302.56,498.30V556.70M242.40,537.23H317.60M242.40,517.77H317.60" stroke="#e6e6e6" stroke-width="0.35" fill="none"/>
<g clip-path="url(#c27)">
<path d="M242.4 513.7L250.8 556.7L259.1 556.7L267.5 556.7L275.8 556.7L284.2 556.7L292.5 556.7L300.9 556.7L309.2 556.7L317.6 556.7" class="a0"/>
<path d="M242.4 514.8L250.8 556.7L259.1 556.7L267.5 556.7L275.8 556.7L284.2 556.7L292.5 556.7L300.9 556.7L309.2 556.7L317.6 556.7" class="a1"/>
<path d="M242.4 531.4L250.8 556.7L259.1 556.7L267.5 556.7L275.8 556.7L284.2 556.7L292.5 556.7L300.9 556.7L309.2 556.7L317.6 556.7" class="a2"/>
<path d="M242.4 513.9L250.8 556.7L259.1 556.7L267.5 556.7L275.8 556.7L284.2 556.7L292.5 556.7L300.9 556.7L309.2 556.7L317.6 556.7" class="a3"/>
<path d="M242.4 525.4L250.8 556.7L259.1 556.7L267.5 556.7L275.8 556.7L284.2 556.7L292.5 556.7L300.9 556.7L309.2 556.7L317.6 556.7" class="a4"/>
<path d="M242.4 514.8L250.8 556.7L259.1 556.7L267.5 556.7L275.8 556.7L284.2 556.7L292.5 556.7L300.9 556.7L309.2 556.7L317.6 556.7" class="a5"/>
<path d="M242.4 532.8L250.8 556.7L259.1 556.7L267.5 556.7L275.8 556.7L284.2 556.7L292.5 556.7L300.9 556.7L309.2 556.7L317.6 556.7" class="a6"/>
<path d="M242.4 502.0L250.8 556.7L259.1 556.7L267.5 556.7L275.8 556.7L284.2 556.7L292.5 556.7L300.9 556.7L309.2 556.7L317.6 556.7" class="a7"/>
<path d="M242.4 508.6L250.8 556.7L259.1 556.7L267.5 556.7L275.8 556.7L284.2 556.7L292.5 556.7L300.9 556.7L309.2 556.7L317.6 556.7" class="a8"/>
<path d="M242.4 532.4L250.8 556.7L259.1 556.7L267.5 556.7L275.8 556.7L284.2 556.7L292.5 556.7L300.9 556.7L309.2 556.7L317.6 556.7" class="a9"/>
<path d="M242.4 541.1L250.8 556.7L259.1 556.7L267.5 556.7L275.8 556.7L284.2 556.7L292.5 556.7L300.9 556.7L309.2 556.7L317.6 556.7" class="a10"/>
<path d="M242.4 529.6L250.8 556.7L259.1 556.7L267.5 556.7L275.8 556.7L284.2 556.7L292.5 556.7L300.9 556.7L309.2 556.7L317.6 556.7" class="a11"/>
</g>
<rect x="242.40" y="498.30" width="75.20" height="58.40" fill="none" stroke="#a0a0a0" stroke-width="0.4"/>
<g class="tk"><text x="242.40" y="563.00" text-anchor="middle">0</text><text x="257.44" y="563.00" text-anchor="middle">100</text><text x="272.48" y="563.00" text-anchor="middle">200</text><text x="287.52" y="563.00" text-anchor="middle">300</text><text x="302.56" y="563.00" text-anchor="middle">400</text><text x="317.60" y="563.00" text-anchor="middle">500</text><text x="240.80" y="558.20" text-anchor="end">0</text><text x="240.80" y="538.73" text-anchor="end">1</text><text x="240.80" y="519.27" text-anchor="end">2</text><text x="240.80" y="499.80" text-anchor="end">3</text></g>
<text class="tk ex" x="242.70" y="497.30">×10<tspan class="sup" dy="-2.0">7</tspan></text>
<text class="ti" x="280.00" y="496.90" text-anchor="middle">CEC-2017 F28 D=100</text>
<text class="lb" x="280.00" y="568.60" text-anchor="middle">Iterations</text>
<text class="lb" transform="translate(236.00,527.50) rotate(-90)" text-anchor="middle">Mean Fitness</text>
<path d="M367.80,498.30V556.70M383.10,498.30V556.70M398.40,498.30V556.70M413.70,498.30V556.70M352.50,545.02H429.00M352.50,533.34H429.00M352.50,521.66H429.00M352.50,509.98H429.00" stroke="#e6e6e6" stroke-width="0.35" fill="none"/>
<g clip-path="url(#c28)">
<path d="M352.5 510.0L361.0 553.2L369.5 554.9L378.0 555.8L386.5 556.2L395.0 556.4L403.5 556.5L412.0 556.6L420.5 556.6L429.0 556.6" class="a0"/>
<path d="M352.5 508.8L361.0 552.0L369.5 554.3L378.0 555.5L386.5 556.0L395.0 556.3L403.5 556.4L412.0 556.5L420.5 556.5L429.0 556.6" class="a1"/>
<path d="M352.5 511.1L361.0 551.4L369.5 554.0L378.0 555.3L386.5 556.0L395.0 556.3L403.5 556.4L412.0 556.5L420.5 556.5L429.0 556.6" class="a2"/>
<path d="M352.5 508.2L361.0 554.4L369.5 555.5L378.0 556.1L386.5 556.4L395.0 556.5L403.5 556.6L412.0 556.6L420.5 556.6L429.0 556.6" class="a3"/>
<path d="M352.5 515.8L361.0 546.2L369.5 552.0L378.0 554.9L386.5 556.1L395.0 556.4L403.5 556.6L412.0 556.6L420.5 556.7L429.0 556.7" class="a4"/>
<path d="M352.5 510.6L361.0 550.9L369.5 553.7L378.0 555.2L386.5 555.9L395.0 556.2L403.5 556.4L412.0 556.5L420.5 556.5L429.0 556.6" class="a5"/>
<path d="M352.5 510.0L361.0 539.2L369.5 542.7L378.0 545.0L386.5 546.8L395.0 548.5L403.5 549.7L412.0 550.6L420.5 551.4L429.0 552.0" class="a6"/>
<path d="M352.5 507.6L361.0 540.9L369.5 549.7L378.0 553.8L386.5 555.5L395.0 556.1L403.5 556.4L412.0 556.6L420.5 556.7L429.0 556.7" class="a7"/>
<path d="M352.5 507.1L361.0 549.7L369.5 553.2L378.0 554.9L386.5 555.7L395.0 556.2L403.5 556.4L412.0 556.5L420.5 556.5L429.0 556.6" class="a8"/>
<path d="M352.5 512.9L361.0 555.5L369.5 556.1L378.0 556.4L386.5 556.6L395.0 556.6L403.5 556.7L412.0 556.7L420.5 556.7L429.0 556.7" class="a9"/>
<path d="M352.5 512.3L361.0 554.9L369.5 555.8L378.0 556.3L386.5 556.5L395.0 556.6L403.5 556.6L412.0 556.7L420.5 556.7L429.0 556.7" class="a10"/>
<path d="M352.5 514.7L361.0 556.1L369.5 556.4L378.0 556.6L386.5 556.6L395.0 556.7L403.5 556.7L412.0 556.7L420.5 556.7L429.0 556.7" class="a11"/>
</g>
<rect x="352.50" y="498.30" width="76.50" height="58.40" fill="none" stroke="#a0a0a0" stroke-width="0.4"/>
<g class="tk"><text x="352.50" y="563.00" text-anchor="middle">0</text><text x="367.80" y="563.00" text-anchor="middle">100</text><text x="383.10" y="563.00" text-anchor="middle">200</text><text x="398.40" y="563.00" text-anchor="middle">300</text><text x="413.70" y="563.00" text-anchor="middle">400</text><text x="429.00" y="563.00" text-anchor="middle">500</text><text x="350.90" y="558.20" text-anchor="end">0</text><text x="350.90" y="546.52" text-anchor="end">2</text><text x="350.90" y="534.84" text-anchor="end">4</text><text x="350.90" y="523.16" text-anchor="end">6</text><text x="350.90" y="511.48" text-anchor="end">8</text><text x="350.90" y="499.80" text-anchor="end">10</text></g>
<text class="tk ex" x="352.80" y="497.30">×10<tspan class="sup" dy="-2.0">10</tspan></text>
<text class="ti" x="390.75" y="496.90" text-anchor="middle">CEC-2017 F29 D=100</text>
<text class="lb" x="390.75" y="568.60" text-anchor="middle">Iterations</text>
<text class="lb" transform="translate(343.80,527.50) rotate(-90)" text-anchor="middle">Mean Fitness</text>
</svg></body></html>
